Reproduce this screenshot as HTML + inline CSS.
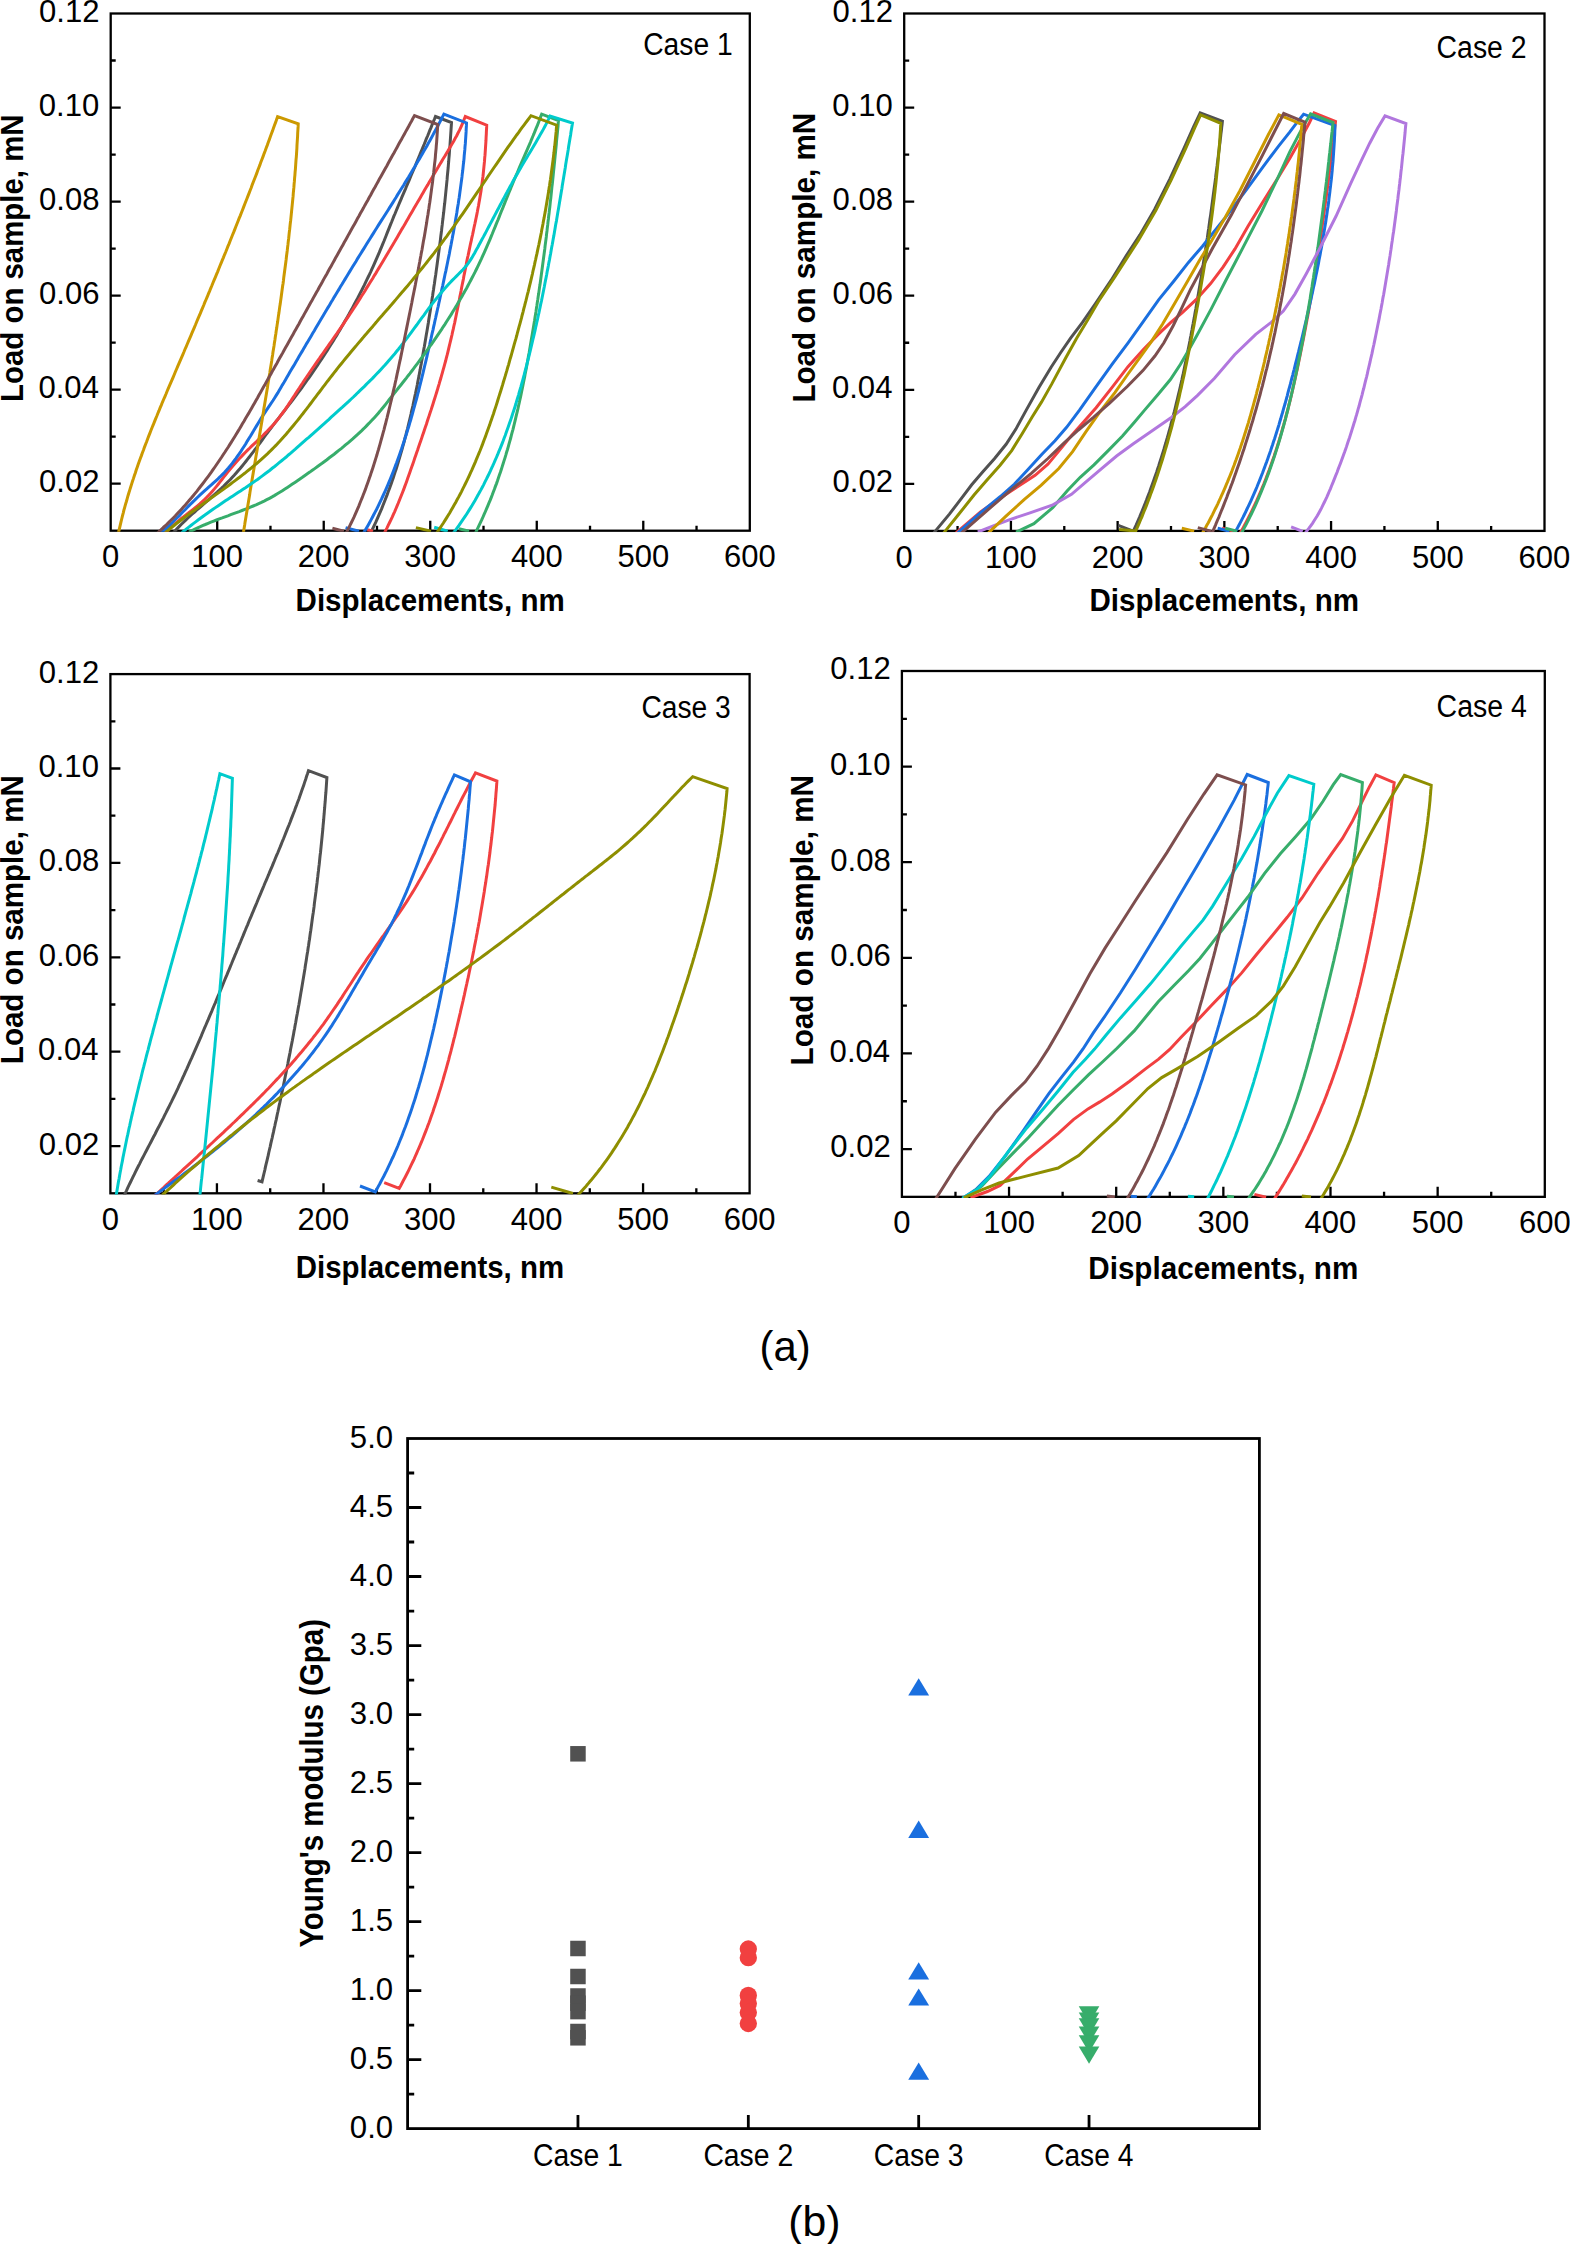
<!DOCTYPE html>
<html lang="en"><head><meta charset="utf-8"><title>Nanoindentation load-displacement curves and Young's modulus</title>
<style>html,body{margin:0;padding:0;background:#fff}body{width:1570px;height:2244px;overflow:hidden}svg{display:block}</style></head>
<body>
<svg width="1570" height="2244" viewBox="0 0 1570 2244" font-family='"Liberation Sans", sans-serif' fill="#000">
<rect width="1570" height="2244" fill="#fff"/>
<clipPath id="c1"><rect x="109.55" y="12.35" width="641.40" height="519.50"/></clipPath>
<path d="M163.96,530.70v-5.00 M217.22,530.70v-10.00 M270.47,530.70v-5.00 M323.73,530.70v-10.00 M376.99,530.70v-5.00 M430.25,530.70v-10.00 M483.51,530.70v-5.00 M536.77,530.70v-10.00 M590.02,530.70v-5.00 M643.28,530.70v-10.00 M696.54,530.70v-5.00 M110.70,483.68h10.00 M110.70,436.66h5.00 M110.70,389.65h10.00 M110.70,342.63h5.00 M110.70,295.61h10.00 M110.70,248.59h5.00 M110.70,201.57h10.00 M110.70,154.55h5.00 M110.70,107.54h10.00 M110.70,60.52h5.00" stroke="#000" stroke-width="2.3" fill="none"/>
<rect x="110.70" y="13.50" width="639.10" height="517.20" fill="none" stroke="#000" stroke-width="2.3"/>
<g clip-path="url(#c1)" fill="none" stroke-width="3.0" stroke-linejoin="miter" stroke-miterlimit="4" stroke-linecap="butt">
<path stroke="#515151" d="M173.2,533 175.2,530.8 177.2,528.6 179.3,526.4 181.4,524.3 183.5,522.2 185.7,520.1 187.9,518 190.1,516 192.3,514 194.6,512 196.8,510 199.1,508 201.4,506 203.6,504.1 205.9,502.1 208.2,500.1 210.5,498.2 212.7,496.2 215,494.2 217.2,492.2 219.4,490.1 221.6,488.1 223.8,486 225.9,483.9 228,481.8 230.1,479.7 232.1,477.5 234.2,475.3 236.2,473 238.1,470.8 240.1,468.5 242,466.2 243.9,463.9 245.8,461.5 247.6,459.2 249.5,456.8 251.3,454.4 253.1,452.1 254.9,449.7 256.7,447.3 258.5,444.9 260.3,442.5 262.1,440 263.8,437.6 265.6,435.2 267.4,432.8 269.2,430.4 271,428 272.8,425.7 274.6,423.3 276.5,420.9 278.3,418.6 280.2,416.2 282,413.8 283.8,411.5 285.7,409.1 287.5,406.7 289.3,404.4 291.1,402 293,399.6 294.8,397.2 296.5,394.8 298.3,392.4 300.1,390 301.9,387.5 303.6,385.1 305.4,382.7 307.1,380.2 308.9,377.8 310.6,375.3 312.3,372.8 314,370.4 315.7,367.9 317.4,365.4 319,362.9 320.7,360.4 322.4,357.9 324,355.4 325.6,352.9 327.3,350.4 328.9,347.8 330.5,345.3 332.1,342.7 333.7,340.2 335.2,337.6 336.8,335.1 338.3,332.5 339.9,329.9 341.4,327.3 342.9,324.7 344.4,322.1 345.9,319.5 347.4,316.9 348.9,314.3 350.3,311.7 351.8,309.1 353.2,306.4 354.6,303.8 356.1,301.1 357.5,298.5 358.8,295.8 360.2,293.1 361.6,290.5 362.9,287.8 364.3,285.1 365.6,282.4 366.9,279.7 368.2,277 369.5,274.3 370.8,271.6 372,268.9 373.3,266.1 374.5,263.4 375.7,260.6 376.9,257.9 378.1,255.1 379.3,252.4 380.4,249.6 381.6,246.8 382.7,244.1 383.9,241.3 385,238.5 386.1,235.7 387.2,232.9 388.3,230.1 389.4,227.4 390.5,224.6 391.7,221.8 392.8,219 393.9,216.2 395.1,213.5 396.2,210.7 397.4,207.9 398.5,205.2 399.7,202.4 400.9,199.6 402,196.9 403.2,194.1 404.4,191.3 405.6,188.6 406.7,185.8 407.9,183.1 409.1,180.3 410.3,177.5 411.4,174.8 412.6,172 413.8,169.2 415,166.5 416.1,163.7 417.3,160.9 418.4,158.2 419.6,155.4 420.7,152.6 421.9,149.8 423,147.1 424.2,144.3 425.3,141.5 426.4,138.7 427.6,136 428.7,133.2 429.8,130.4 431,127.6 432.1,124.8 433.2,122.1 434.4,119.3 435.5,116.5 451.5,122.6 451.3,125.6 451.1,128.6 450.9,131.6 450.7,134.6 450.5,137.6 450.3,140.6 450.1,143.6 449.9,146.6 449.6,149.5 449.4,152.5 449.2,155.5 448.9,158.5 448.7,161.5 448.4,164.5 448.2,167.5 447.9,170.5 447.6,173.5 447.3,176.5 447.1,179.4 446.8,182.4 446.5,185.4 446.2,188.4 445.9,191.4 445.6,194.4 445.3,197.4 445,200.4 444.7,203.3 444.3,206.3 444,209.3 443.7,212.3 443.3,215.3 443,218.3 442.6,221.2 442.3,224.2 441.9,227.2 441.6,230.2 441.2,233.2 440.8,236.2 440.5,239.1 440.1,242.1 439.7,245.1 439.3,248.1 438.9,251.1 438.5,254 438.1,257 437.7,260 437.3,263 436.9,266 436.5,268.9 436.1,271.9 435.7,274.9 435.2,277.9 434.8,280.8 434.4,283.8 433.9,286.8 433.5,289.8 433,292.7 432.6,295.7 432.1,298.7 431.7,301.7 431.2,304.6 430.7,307.6 430.3,310.6 429.8,313.6 429.3,316.5 428.8,319.5 428.4,322.5 427.9,325.4 427.4,328.4 426.9,331.4 426.4,334.3 425.9,337.3 425.4,340.3 424.9,343.3 424.4,346.2 423.8,349.2 423.3,352.2 422.8,355.1 422.3,358.1 421.7,361.1 421.2,364 420.6,367 420.1,369.9 419.5,372.9 419,375.9 418.4,378.8 417.8,381.8 417.3,384.7 416.7,387.7 416.1,390.6 415.5,393.6 414.8,396.5 414.2,399.5 413.6,402.4 413,405.3 412.3,408.3 411.6,411.2 411,414.1 410.3,417.1 409.6,420 408.9,422.9 408.2,425.8 407.5,428.8 406.7,431.7 406,434.6 405.2,437.5 404.5,440.4 403.7,443.3 402.9,446.2 402.1,449.1 401.3,451.9 400.4,454.8 399.6,457.7 398.7,460.6 397.9,463.4 397,466.3 396.1,469.2 395.1,472 394.2,474.9 393.3,477.7 392.3,480.5 391.3,483.4 390.3,486.2 389.3,489 388.2,491.8 387.2,494.6 386.1,497.4 385,500.2 383.9,503 382.8,505.8 381.7,508.6 380.5,511.4 379.3,514.1 378.1,516.9 376.9,519.7 375.7,522.4 374.4,525.1 373.1,527.9 371.8,530.6 370.5,533.3"/>
<path stroke="#F14040" d="M165.4,532.9 167.5,530.8 169.6,528.7 171.8,526.6 174.1,524.6 176.3,522.6 178.7,520.7 181,518.8 183.4,517 185.7,515.1 188.1,513.3 190.5,511.4 192.8,509.6 195.2,507.7 197.5,505.8 199.8,503.9 202,501.9 204.2,499.8 206.3,497.7 208.4,495.6 210.4,493.4 212.4,491.2 214.4,488.9 216.3,486.6 218.2,484.2 220,481.9 221.9,479.5 223.7,477.1 225.6,474.8 227.5,472.4 229.4,470.1 231.3,467.8 233.2,465.5 235.2,463.2 237.2,461 239.2,458.7 241.3,456.6 243.4,454.4 245.5,452.2 247.6,450.1 249.8,448 251.9,445.9 254.1,443.8 256.3,441.8 258.5,439.7 260.7,437.6 262.9,435.5 265,433.4 267.1,431.3 269.2,429.1 271.3,426.9 273.3,424.7 275.2,422.4 277.2,420.1 279,417.8 280.8,415.4 282.6,413 284.4,410.6 286.1,408.1 287.8,405.6 289.4,403.1 291.1,400.6 292.7,398.1 294.4,395.6 296,393 297.6,390.5 299.3,388 300.9,385.5 302.6,383 304.2,380.5 305.9,378 307.6,375.5 309.3,373 311,370.5 312.7,368 314.4,365.6 316.1,363.1 317.8,360.6 319.6,358.2 321.3,355.7 323,353.3 324.7,350.8 326.4,348.3 328.2,345.9 329.9,343.4 331.6,341 333.3,338.5 335,336 336.8,333.6 338.5,331.1 340.2,328.6 341.9,326.2 343.6,323.7 345.2,321.2 346.9,318.7 348.6,316.2 350.2,313.7 351.9,311.2 353.5,308.7 355.2,306.2 356.8,303.6 358.4,301.1 360,298.6 361.6,296 363.3,293.5 364.9,291 366.4,288.4 368,285.9 369.6,283.3 371.2,280.7 372.8,278.2 374.3,275.6 375.9,273.1 377.4,270.5 379,267.9 380.6,265.3 382.1,262.8 383.6,260.2 385.2,257.6 386.7,255 388.2,252.4 389.8,249.8 391.3,247.2 392.8,244.7 394.4,242.1 395.9,239.5 397.4,236.9 398.9,234.3 400.4,231.7 401.9,229.1 403.5,226.5 405,223.9 406.5,221.3 408,218.7 409.5,216.1 411,213.5 412.5,210.9 414,208.3 415.5,205.7 417.1,203.1 418.6,200.5 420.1,197.9 421.6,195.3 423.1,192.7 424.6,190.1 426.1,187.5 427.7,184.9 429.2,182.3 430.7,179.7 432.2,177.2 433.8,174.6 435.3,172 436.8,169.4 438.4,166.8 439.9,164.2 441.5,161.6 443,159.1 444.6,156.5 446.1,153.9 447.7,151.3 449.2,148.7 450.7,146.2 452.3,143.6 453.8,141 455.2,138.3 456.7,135.7 458,133 459.4,130.4 460.7,127.6 461.9,124.9 463.1,122.1 464.2,119.3 465.3,116.5 486.7,125.2 486.6,128.2 486.4,131.2 486.3,134.2 486.1,137.2 486,140.2 485.8,143.2 485.6,146.2 485.4,149.2 485.2,152.2 485,155.2 484.7,158.2 484.5,161.2 484.2,164.2 483.9,167.2 483.6,170.2 483.3,173.2 483,176.2 482.6,179.1 482.2,182.1 481.8,185.1 481.4,188.1 481,191 480.5,194 480,196.9 479.5,199.9 479,202.8 478.5,205.8 477.9,208.7 477.4,211.6 476.8,214.6 476.2,217.5 475.6,220.4 475,223.3 474.3,226.3 473.7,229.2 473.1,232.1 472.5,235 471.8,237.9 471.2,240.9 470.5,243.8 469.9,246.7 469.3,249.6 468.7,252.6 468.1,255.5 467.4,258.4 466.8,261.3 466.3,264.3 465.7,267.2 465.1,270.1 464.5,273.1 463.9,276 463.4,279 462.8,281.9 462.2,284.8 461.6,287.8 461.1,290.7 460.5,293.7 459.9,296.6 459.4,299.6 458.8,302.5 458.2,305.4 457.6,308.4 457,311.3 456.4,314.3 455.8,317.2 455.2,320.1 454.6,323.1 453.9,326 453.3,328.9 452.6,331.8 452,334.8 451.3,337.7 450.6,340.6 449.9,343.5 449.2,346.4 448.5,349.4 447.8,352.3 447.1,355.2 446.3,358.1 445.6,361 444.8,363.9 444,366.8 443.2,369.7 442.4,372.6 441.6,375.4 440.8,378.3 439.9,381.2 439.1,384.1 438.2,387 437.4,389.8 436.5,392.7 435.6,395.6 434.7,398.5 433.8,401.3 432.9,404.2 432,407 431.1,409.9 430.1,412.8 429.2,415.6 428.2,418.5 427.3,421.3 426.4,424.2 425.4,427 424.4,429.9 423.5,432.7 422.5,435.6 421.6,438.4 420.6,441.3 419.6,444.1 418.6,446.9 417.7,449.8 416.7,452.6 415.7,455.5 414.7,458.3 413.8,461.1 412.8,464 411.8,466.8 410.8,469.6 409.8,472.5 408.8,475.3 407.8,478.1 406.8,480.9 405.8,483.7 404.7,486.6 403.7,489.4 402.6,492.2 401.5,495 400.4,497.7 399.3,500.5 398.2,503.3 397,506.1 395.9,508.8 394.7,511.6 393.4,514.3 392.2,517.1 390.9,519.8 389.6,522.5 388.3,525.2 387,527.9 385.6,530.6 384.2,533.3 M372.8,531.3 L367.3,529.7"/>
<path stroke="#1A6FDF" d="M161.5,532.8 163.7,530.8 165.9,528.7 168.1,526.7 170.3,524.6 172.4,522.5 174.5,520.3 176.6,518.2 178.8,516.1 180.9,513.9 183,511.8 185.1,509.7 187.2,507.5 189.3,505.4 191.4,503.3 193.6,501.2 195.7,499.1 197.9,497 200.1,494.9 202.3,492.9 204.5,490.9 206.8,488.9 209,486.9 211.3,484.9 213.5,482.8 215.8,480.8 218,478.8 220.2,476.7 222.3,474.6 224.4,472.5 226.4,470.3 228.4,468 230.3,465.7 232.2,463.4 234,461 235.8,458.6 237.5,456.2 239.2,453.8 240.9,451.3 242.5,448.8 244.2,446.2 245.8,443.7 247.3,441.1 248.9,438.5 250.5,436 252,433.4 253.6,430.8 255.1,428.2 256.7,425.6 258.3,423 259.8,420.5 261.4,417.9 263,415.4 264.7,412.9 266.3,410.4 268,407.9 269.7,405.4 271.3,403 273,400.5 274.6,398 276.2,395.4 277.8,392.9 279.3,390.3 280.8,387.7 282.3,385.1 283.9,382.5 285.4,379.9 286.9,377.3 288.4,374.7 289.9,372.1 291.4,369.5 293,366.9 294.5,364.4 296,361.8 297.5,359.2 299,356.6 300.5,354 302.1,351.4 303.6,348.8 305.1,346.2 306.6,343.6 308.2,341 309.7,338.4 311.2,335.9 312.7,333.3 314.3,330.7 315.8,328.1 317.3,325.5 318.8,322.9 320.4,320.3 321.9,317.8 323.4,315.2 325,312.6 326.5,310 328.1,307.4 329.6,304.9 331.1,302.3 332.7,299.7 334.2,297.1 335.8,294.5 337.3,292 338.9,289.4 340.4,286.8 342,284.3 343.5,281.7 345.1,279.1 346.7,276.5 348.2,274 349.8,271.4 351.4,268.8 352.9,266.3 354.5,263.7 356.1,261.2 357.6,258.6 359.2,256 360.8,253.5 362.4,250.9 364,248.4 365.6,245.8 367.1,243.3 368.7,240.7 370.3,238.2 371.9,235.6 373.5,233.1 375.1,230.5 376.7,228 378.3,225.4 379.9,222.9 381.5,220.4 383.2,217.8 384.8,215.3 386.4,212.7 388,210.2 389.6,207.6 391.2,205.1 392.8,202.6 394.4,200 396,197.5 397.5,194.9 399.1,192.4 400.7,189.8 402.3,187.2 403.9,184.7 405.4,182.1 407,179.6 408.6,177 410.1,174.4 411.7,171.8 413.2,169.3 414.8,166.7 416.3,164.1 417.8,161.5 419.4,158.9 420.9,156.3 422.4,153.7 423.9,151.1 425.4,148.5 426.9,145.9 428.3,143.3 429.8,140.7 431.3,138 432.7,135.4 434.1,132.8 435.6,130.1 437,127.5 438.4,124.8 439.8,122.1 441.2,119.5 442.5,116.8 443.9,114.1 466.5,122.9 466.4,125.9 466.2,128.9 466.1,131.9 465.9,134.9 465.7,137.9 465.5,140.9 465.3,143.9 465,146.9 464.8,149.9 464.5,152.9 464.2,155.9 464,158.8 463.7,161.8 463.3,164.8 463,167.8 462.7,170.8 462.3,173.7 462,176.7 461.6,179.7 461.2,182.6 460.8,185.6 460.4,188.6 460,191.5 459.6,194.5 459.2,197.5 458.7,200.4 458.3,203.4 457.8,206.3 457.3,209.3 456.9,212.2 456.4,215.2 455.9,218.1 455.4,221.1 454.9,224 454.3,227 453.8,229.9 453.3,232.9 452.7,235.8 452.2,238.8 451.6,241.7 451.1,244.6 450.5,247.6 449.9,250.5 449.4,253.5 448.8,256.4 448.2,259.3 447.6,262.3 447,265.2 446.4,268.1 445.8,271.1 445.1,274 444.5,277 443.9,279.9 443.3,282.8 442.7,285.8 442,288.7 441.4,291.6 440.7,294.6 440.1,297.5 439.5,300.4 438.8,303.4 438.2,306.3 437.5,309.2 436.9,312.2 436.2,315.1 435.6,318 434.9,321 434.3,323.9 433.6,326.9 433,329.8 432.3,332.7 431.6,335.7 431,338.6 430.3,341.5 429.7,344.5 429,347.4 428.3,350.3 427.6,353.3 427,356.2 426.3,359.1 425.6,362.1 424.9,365 424.2,367.9 423.5,370.9 422.8,373.8 422.1,376.7 421.4,379.6 420.7,382.5 419.9,385.5 419.2,388.4 418.5,391.3 417.7,394.2 417,397.1 416.2,400 415.4,402.9 414.6,405.8 413.8,408.7 413,411.6 412.2,414.5 411.4,417.4 410.6,420.2 409.7,423.1 408.9,426 408,428.8 407.1,431.7 406.2,434.6 405.3,437.4 404.4,440.3 403.5,443.1 402.5,445.9 401.6,448.8 400.6,451.6 399.6,454.4 398.6,457.2 397.6,460 396.6,462.8 395.5,465.6 394.5,468.4 393.4,471.2 392.3,474 391.2,476.8 390.1,479.5 388.9,482.3 387.8,485 386.6,487.8 385.4,490.5 384.2,493.2 382.9,496 381.7,498.7 380.4,501.4 379.1,504.1 377.8,506.8 376.5,509.5 375.1,512.1 373.7,514.8 372.3,517.5 370.9,520.1 369.5,522.7 368,525.4 366.5,528 365,530.6 363.5,533.2 M359,531.3 L345.6,527.6"/>
<path stroke="#37AD6B" d="M189,532.2 191.7,530.8 194.4,529.4 197.1,528.1 199.8,526.9 202.5,525.6 205.3,524.5 208.1,523.3 210.9,522.2 213.7,521.1 216.5,520 219.3,518.9 222.2,517.9 225,516.8 227.9,515.8 230.7,514.7 233.5,513.7 236.4,512.6 239.2,511.6 242,510.5 244.8,509.4 247.7,508.3 250.4,507.2 253.2,506 256,504.9 258.7,503.6 261.4,502.4 264.1,501.1 266.8,499.7 269.5,498.3 272.1,496.9 274.7,495.4 277.3,493.8 279.8,492.3 282.4,490.7 284.9,489.1 287.4,487.4 289.9,485.8 292.4,484.1 294.9,482.4 297.4,480.7 299.9,479 302.4,477.3 304.9,475.5 307.3,473.8 309.8,472.1 312.3,470.3 314.7,468.6 317.2,466.8 319.6,465 322.1,463.3 324.5,461.5 326.9,459.7 329.3,457.8 331.7,456 334.1,454.2 336.5,452.3 338.8,450.4 341.2,448.6 343.5,446.7 345.8,444.7 348.1,442.8 350.4,440.8 352.7,438.9 354.9,436.9 357.1,434.9 359.3,432.8 361.5,430.8 363.7,428.7 365.8,426.6 367.9,424.4 370,422.3 372.1,420.1 374.1,417.9 376.1,415.7 378.1,413.4 380.1,411.1 382,408.8 383.9,406.5 385.8,404.1 387.7,401.7 389.5,399.3 391.4,397 393.3,394.6 395.1,392.2 397,389.9 398.8,387.5 400.7,385.2 402.6,382.8 404.4,380.5 406.3,378.1 408.1,375.7 410,373.4 411.8,371 413.6,368.6 415.4,366.2 417.2,363.8 419,361.4 420.8,358.9 422.6,356.5 424.4,354.1 426.1,351.6 427.9,349.2 429.6,346.7 431.4,344.3 433.1,341.8 434.8,339.3 436.5,336.8 438.2,334.3 439.9,331.8 441.6,329.3 443.2,326.8 444.9,324.3 446.5,321.8 448.1,319.2 449.8,316.7 451.4,314.1 452.9,311.6 454.5,309 456.1,306.4 457.6,303.8 459.1,301.2 460.7,298.6 462.2,296 463.6,293.4 465.1,290.8 466.6,288.2 468,285.5 469.4,282.9 470.8,280.2 472.2,277.5 473.6,274.9 475,272.2 476.3,269.5 477.6,266.8 478.9,264.1 480.2,261.3 481.5,258.6 482.7,255.9 484,253.1 485.2,250.4 486.4,247.6 487.6,244.9 488.8,242.1 490,239.3 491.1,236.6 492.3,233.8 493.4,231 494.6,228.2 495.7,225.4 496.8,222.6 498,219.9 499.1,217.1 500.2,214.3 501.3,211.5 502.5,208.7 503.6,205.9 504.7,203.1 505.8,200.3 507,197.5 508.1,194.7 509.2,191.9 510.4,189.1 511.5,186.3 512.7,183.5 513.8,180.8 515,178 516.2,175.2 517.4,172.5 518.5,169.7 519.7,166.9 520.9,164.2 522.1,161.4 523.3,158.6 524.5,155.9 525.7,153.1 526.9,150.4 528.1,147.6 529.3,144.8 530.5,142.1 531.6,139.3 532.8,136.5 534,133.7 535.1,130.9 536.2,128.1 537.4,125.4 538.5,122.5 539.6,119.7 540.6,116.9 541.7,114.1 558.5,120.6 558.2,123.6 558,126.6 557.7,129.5 557.4,132.5 557.1,135.5 556.8,138.5 556.5,141.4 556.3,144.4 556,147.4 555.7,150.4 555.4,153.4 555.1,156.3 554.8,159.3 554.5,162.3 554.2,165.3 553.9,168.3 553.6,171.2 553.3,174.2 553,177.2 552.7,180.2 552.4,183.2 552,186.2 551.7,189.2 551.4,192.1 551.1,195.1 550.8,198.1 550.4,201.1 550.1,204.1 549.8,207.1 549.4,210 549.1,213 548.7,216 548.4,219 548,222 547.7,225 547.3,228 547,230.9 546.6,233.9 546.3,236.9 545.9,239.9 545.5,242.9 545.1,245.9 544.8,248.9 544.4,251.8 544,254.8 543.6,257.8 543.2,260.8 542.8,263.8 542.4,266.8 542,269.7 541.6,272.7 541.2,275.7 540.8,278.7 540.4,281.7 540,284.6 539.5,287.6 539.1,290.6 538.7,293.6 538.2,296.5 537.8,299.5 537.3,302.5 536.9,305.5 536.4,308.4 536,311.4 535.5,314.4 535,317.4 534.6,320.3 534.1,323.3 533.6,326.3 533.1,329.2 532.6,332.2 532.1,335.2 531.6,338.1 531.1,341.1 530.6,344.1 530.1,347 529.6,350 529.1,353 528.5,355.9 528,358.9 527.5,361.8 526.9,364.8 526.4,367.7 525.8,370.7 525.2,373.6 524.7,376.6 524.1,379.5 523.5,382.5 522.9,385.4 522.3,388.4 521.7,391.3 521.1,394.2 520.5,397.2 519.8,400.1 519.2,403 518.5,406 517.9,408.9 517.2,411.8 516.5,414.7 515.8,417.6 515.1,420.6 514.4,423.5 513.7,426.4 513,429.3 512.2,432.2 511.4,435.1 510.7,438 509.9,440.8 509.1,443.7 508.3,446.6 507.5,449.5 506.6,452.3 505.8,455.2 504.9,458.1 504,460.9 503.1,463.8 502.2,466.6 501.3,469.5 500.4,472.3 499.4,475.1 498.4,478 497.5,480.8 496.5,483.6 495.4,486.4 494.4,489.2 493.3,492 492.3,494.8 491.2,497.6 490.1,500.4 488.9,503.2 487.8,505.9 486.6,508.7 485.4,511.5 484.2,514.2 483,517 481.8,519.7 480.5,522.4 479.2,525.2 477.9,527.9 476.6,530.6 475.3,533.3 M469.1,531.2 L459,528.8"/>
<path stroke="#CC9900" d="M118.2,533.7 118.9,530.8 119.6,527.8 120.3,524.9 121,521.9 121.7,519 122.4,516.1 123.2,513.1 123.9,510.2 124.7,507.3 125.5,504.4 126.4,501.5 127.2,498.6 128,495.7 128.9,492.8 129.8,489.9 130.7,487 131.6,484.1 132.5,481.3 133.5,478.4 134.4,475.5 135.4,472.7 136.3,469.8 137.3,467 138.3,464.1 139.3,461.3 140.3,458.4 141.4,455.6 142.4,452.8 143.5,450 144.5,447.1 145.6,444.3 146.7,441.5 147.7,438.7 148.8,435.9 149.9,433.1 151,430.3 152.1,427.5 153.3,424.7 154.4,421.9 155.5,419.1 156.7,416.3 157.8,413.5 159,410.7 160.1,407.9 161.3,405.1 162.4,402.3 163.6,399.5 164.8,396.8 166,394 167.1,391.2 168.3,388.4 169.5,385.6 170.7,382.9 171.9,380.1 173.1,377.3 174.3,374.5 175.4,371.8 176.6,369 177.8,366.2 179,363.4 180.2,360.6 181.4,357.9 182.6,355.1 183.8,352.3 184.9,349.5 186.1,346.8 187.3,344 188.5,341.2 189.7,338.4 190.9,335.6 192,332.9 193.2,330.1 194.4,327.3 195.6,324.5 196.7,321.7 197.9,318.9 199.1,316.2 200.3,313.4 201.4,310.6 202.6,307.8 203.8,305 204.9,302.2 206.1,299.5 207.3,296.7 208.4,293.9 209.6,291.1 210.7,288.3 211.9,285.5 213,282.7 214.2,279.9 215.4,277.1 216.5,274.4 217.7,271.6 218.8,268.8 219.9,266 221.1,263.2 222.2,260.4 223.4,257.6 224.5,254.8 225.7,252 226.8,249.2 227.9,246.4 229.1,243.6 230.2,240.8 231.3,238 232.4,235.2 233.6,232.4 234.7,229.6 235.8,226.8 236.9,224 238,221.2 239.1,218.4 240.3,215.6 241.4,212.8 242.5,210 243.6,207.1 244.7,204.3 245.8,201.5 246.9,198.7 248,195.9 249.1,193.1 250.2,190.3 251.3,187.5 252.3,184.6 253.4,181.8 254.5,179 255.6,176.2 256.7,173.4 257.7,170.5 258.8,167.7 259.9,164.9 260.9,162.1 262,159.2 263.1,156.4 264.1,153.6 265.2,150.8 266.2,147.9 267.3,145.1 268.3,142.3 269.4,139.4 270.4,136.6 271.4,133.7 272.5,130.9 273.5,128.1 274.5,125.2 275.6,122.4 276.6,119.5 277.6,116.7 298.2,123.9 298.1,126.9 297.9,129.9 297.7,133 297.6,136 297.4,139 297.2,142 297,145 296.9,148 296.7,151.1 296.5,154.1 296.3,157.1 296,160.1 295.8,163.1 295.6,166.1 295.4,169.1 295.1,172.1 294.9,175.1 294.6,178.2 294.4,181.2 294.1,184.2 293.9,187.2 293.6,190.2 293.3,193.2 293.1,196.2 292.8,199.2 292.5,202.2 292.2,205.2 291.9,208.2 291.6,211.2 291.3,214.2 291,217.2 290.7,220.2 290.3,223.2 290,226.2 289.7,229.2 289.3,232.2 289,235.2 288.7,238.2 288.3,241.2 288,244.2 287.6,247.2 287.3,250.2 286.9,253.2 286.5,256.2 286.2,259.2 285.8,262.2 285.4,265.2 285,268.2 284.6,271.2 284.2,274.2 283.8,277.2 283.5,280.2 283.1,283.2 282.6,286.2 282.2,289.2 281.8,292.2 281.4,295.2 281,298.2 280.6,301.1 280.2,304.1 279.7,307.1 279.3,310.1 278.9,313.1 278.4,316.1 278,319.1 277.6,322.1 277.1,325.1 276.7,328.1 276.2,331 275.8,334 275.3,337 274.9,340 274.4,343 274,346 273.5,349 273,352 272.6,354.9 272.1,357.9 271.7,360.9 271.2,363.9 270.7,366.9 270.2,369.9 269.8,372.9 269.3,375.8 268.8,378.8 268.3,381.8 267.8,384.8 267.4,387.8 266.9,390.8 266.4,393.7 265.9,396.7 265.4,399.7 264.9,402.7 264.4,405.7 263.9,408.6 263.5,411.6 263,414.6 262.5,417.6 262,420.6 261.5,423.6 261,426.5 260.5,429.5 260,432.5 259.5,435.5 259,438.5 258.5,441.4 258,444.4 257.5,447.4 257,450.4 256.5,453.4 256,456.3 255.5,459.3 255,462.3 254.5,465.3 254,468.3 253.5,471.2 253,474.2 252.5,477.2 252,480.2 251.5,483.1 251,486.1 250.5,489.1 250,492.1 249.6,495.1 249.1,498 248.6,501 248.1,504 247.6,507 247.1,510 246.6,512.9 246.1,515.9 245.6,518.9 245.1,521.9 244.7,524.8 244.2,527.8 243.7,530.8 243.2,533.8"/>
<path stroke="#00CBCC" d="M181.8,532.7 184.1,530.8 186.5,528.9 188.8,527.1 191.2,525.2 193.6,523.4 196,521.6 198.4,519.8 200.8,518 203.2,516.2 205.6,514.5 208.1,512.7 210.5,511 213,509.3 215.4,507.6 217.9,505.9 220.4,504.2 222.9,502.5 225.4,500.8 227.9,499.2 230.4,497.5 232.9,495.9 235.4,494.3 238,492.6 240.5,491 243,489.3 245.5,487.7 248,486 250.5,484.3 253,482.6 255.4,480.9 257.9,479.2 260.3,477.4 262.7,475.6 265.1,473.8 267.5,472 269.9,470.2 272.2,468.3 274.6,466.5 276.9,464.6 279.2,462.7 281.6,460.8 283.9,458.9 286.2,457 288.4,455 290.7,453.1 293,451.1 295.3,449.2 297.5,447.2 299.8,445.2 302,443.2 304.3,441.2 306.5,439.2 308.8,437.3 311,435.3 313.3,433.3 315.5,431.3 317.8,429.3 320,427.3 322.2,425.3 324.5,423.3 326.7,421.3 329,419.3 331.2,417.2 333.5,415.2 335.7,413.2 337.9,411.2 340.1,409.2 342.4,407.2 344.6,405.1 346.8,403.1 349,401.1 351.2,399 353.4,397 355.6,394.9 357.7,392.8 359.9,390.7 362,388.7 364.2,386.6 366.3,384.4 368.4,382.3 370.6,380.2 372.7,378.1 374.7,375.9 376.8,373.7 378.9,371.6 380.9,369.4 382.9,367.2 385,365 387,362.7 388.9,360.5 390.9,358.2 392.8,356 394.8,353.7 396.7,351.3 398.6,349 400.4,346.7 402.3,344.3 404.1,341.9 405.9,339.5 407.8,337.1 409.6,334.7 411.3,332.3 413.1,329.9 414.9,327.4 416.7,325 418.4,322.6 420.2,320.1 422,317.7 423.8,315.3 425.5,312.8 427.3,310.4 429.1,308 430.9,305.6 432.8,303.2 434.6,300.8 436.5,298.5 438.4,296.1 440.3,293.8 442.2,291.5 444.1,289.2 446.1,287 448.1,284.8 450.2,282.6 452.2,280.4 454.4,278.2 456.5,276.1 458.6,274 460.7,271.9 462.8,269.7 464.8,267.5 466.7,265.2 468.5,262.9 470.2,260.4 471.8,257.9 473.3,255.3 474.8,252.7 476.2,250.1 477.7,247.5 479.1,244.8 480.5,242.2 481.9,239.5 483.4,236.9 484.8,234.2 486.2,231.6 487.6,228.9 489,226.3 490.4,223.6 491.8,221 493.2,218.3 494.6,215.6 496,213 497.4,210.3 498.8,207.7 500.2,205 501.6,202.4 503,199.7 504.4,197.1 505.8,194.4 507.3,191.8 508.7,189.1 510.1,186.5 511.6,183.9 513,181.2 514.5,178.6 516,176 517.5,173.4 519,170.8 520.5,168.2 522,165.6 523.5,163 525,160.4 526.6,157.9 528.1,155.3 529.7,152.7 531.2,150.2 532.8,147.6 534.3,145 535.8,142.4 537.3,139.8 538.8,137.2 540.3,134.6 541.8,132 543.3,129.4 544.7,126.7 546.1,124.1 547.4,121.4 548.8,118.7 550.1,116 572.5,123 572,126 571.5,128.9 571,131.9 570.6,134.9 570.1,137.8 569.6,140.8 569.1,143.8 568.6,146.7 568.2,149.7 567.7,152.7 567.2,155.7 566.7,158.6 566.2,161.6 565.7,164.6 565.3,167.5 564.8,170.5 564.3,173.5 563.8,176.5 563.3,179.4 562.8,182.4 562.3,185.4 561.9,188.4 561.4,191.3 560.9,194.3 560.4,197.3 559.9,200.3 559.4,203.2 558.9,206.2 558.4,209.2 557.9,212.1 557.4,215.1 556.9,218.1 556.4,221.1 555.8,224 555.3,227 554.8,230 554.3,232.9 553.8,235.9 553.2,238.9 552.7,241.9 552.2,244.8 551.6,247.8 551.1,250.8 550.6,253.7 550,256.7 549.5,259.7 548.9,262.6 548.4,265.6 547.8,268.6 547.2,271.5 546.7,274.5 546.1,277.5 545.5,280.4 544.9,283.4 544.4,286.3 543.8,289.3 543.2,292.3 542.6,295.2 542,298.2 541.4,301.1 540.7,304.1 540.1,307.1 539.5,310 538.9,313 538.2,315.9 537.6,318.9 536.9,321.8 536.3,324.8 535.6,327.7 535,330.7 534.3,333.6 533.6,336.6 532.9,339.5 532.2,342.5 531.5,345.4 530.8,348.3 530.1,351.3 529.4,354.2 528.7,357.2 527.9,360.1 527.2,363 526.5,366 525.7,368.9 524.9,371.8 524.2,374.7 523.4,377.7 522.6,380.6 521.8,383.5 521,386.4 520.1,389.3 519.3,392.2 518.5,395.1 517.6,398 516.7,400.9 515.9,403.8 515,406.7 514.1,409.5 513.1,412.4 512.2,415.3 511.3,418.1 510.3,421 509.3,423.8 508.3,426.7 507.3,429.5 506.3,432.3 505.3,435.2 504.2,438 503.2,440.8 502.1,443.6 501,446.4 499.9,449.2 498.7,451.9 497.6,454.7 496.4,457.5 495.2,460.2 494,463 492.8,465.7 491.5,468.4 490.3,471.1 489,473.8 487.7,476.5 486.4,479.2 485,481.9 483.7,484.6 482.3,487.2 480.9,489.9 479.4,492.5 478,495.1 476.5,497.7 475,500.4 473.5,502.9 472,505.5 470.4,508.1 468.8,510.6 467.2,513.2 465.6,515.7 463.9,518.2 462.2,520.7 460.5,523.2 458.8,525.7 457,528.2 455.2,530.6 453.4,533 M447.7,531.3 L434.2,527.3"/>
<path stroke="#7D4E4E" d="M157.7,532.8 159.9,530.8 162.2,528.7 164.4,526.7 166.6,524.6 168.8,522.4 170.9,520.3 173,518.2 175.2,516 177.2,513.8 179.3,511.6 181.3,509.4 183.4,507.1 185.4,504.9 187.4,502.6 189.3,500.3 191.3,498 193.2,495.7 195.1,493.4 197,491.1 198.8,488.7 200.7,486.3 202.5,484 204.3,481.6 206.1,479.2 207.9,476.8 209.7,474.3 211.5,471.9 213.2,469.4 214.9,467 216.6,464.5 218.3,462 220,459.5 221.7,457 223.3,454.5 225,452 226.6,449.5 228.3,447 229.9,444.4 231.5,441.9 233.1,439.3 234.7,436.7 236.2,434.2 237.8,431.6 239.4,429 240.9,426.4 242.4,423.8 244,421.2 245.5,418.6 247,416 248.6,413.4 250.1,410.8 251.6,408.2 253.1,405.5 254.6,402.9 256.1,400.3 257.6,397.7 259,395 260.5,392.4 262,389.8 263.5,387.1 265,384.5 266.4,381.9 267.9,379.2 269.4,376.6 270.9,373.9 272.3,371.3 273.8,368.7 275.3,366 276.8,363.4 278.2,360.8 279.7,358.1 281.2,355.5 282.7,352.9 284.1,350.2 285.6,347.6 287.1,345 288.6,342.3 290,339.7 291.5,337.1 293,334.4 294.4,331.8 295.9,329.2 297.4,326.5 298.9,323.9 300.3,321.3 301.8,318.6 303.3,316 304.7,313.4 306.2,310.7 307.7,308.1 309.1,305.5 310.6,302.8 312.1,300.2 313.5,297.6 315,294.9 316.5,292.3 318,289.7 319.4,287 320.9,284.4 322.4,281.8 323.8,279.1 325.3,276.5 326.8,273.9 328.2,271.3 329.7,268.6 331.2,266 332.6,263.4 334.1,260.7 335.5,258.1 337,255.5 338.5,252.8 339.9,250.2 341.4,247.6 342.9,244.9 344.3,242.3 345.8,239.7 347.3,237 348.7,234.4 350.2,231.8 351.7,229.1 353.1,226.5 354.6,223.9 356.1,221.2 357.5,218.6 359,216 360.4,213.3 361.9,210.7 363.4,208.1 364.8,205.4 366.3,202.8 367.8,200.2 369.2,197.5 370.7,194.9 372.1,192.3 373.6,189.6 375.1,187 376.5,184.4 378,181.7 379.4,179.1 380.9,176.5 382.4,173.8 383.8,171.2 385.3,168.5 386.8,165.9 388.2,163.3 389.7,160.6 391.1,158 392.6,155.3 394.1,152.7 395.5,150.1 397,147.4 398.4,144.8 399.9,142.1 401.4,139.5 402.8,136.9 404.3,134.2 405.7,131.6 407.2,128.9 408.7,126.3 410.1,123.6 411.6,121 413,118.3 414.5,115.7 437.8,124.5 437.6,127.5 437.4,130.5 437.2,133.5 437,136.6 436.8,139.6 436.6,142.6 436.3,145.6 436.1,148.6 435.8,151.6 435.5,154.6 435.3,157.6 435,160.6 434.6,163.6 434.3,166.6 434,169.5 433.7,172.5 433.3,175.5 432.9,178.5 432.6,181.5 432.2,184.5 431.8,187.4 431.4,190.4 431,193.4 430.6,196.4 430.2,199.3 429.8,202.3 429.3,205.3 428.9,208.3 428.4,211.2 428,214.2 427.5,217.1 427,220.1 426.6,223.1 426.1,226 425.6,229 425.1,232 424.6,234.9 424.1,237.9 423.5,240.8 423,243.8 422.5,246.7 422,249.7 421.4,252.6 420.9,255.6 420.3,258.6 419.8,261.5 419.2,264.5 418.7,267.4 418.1,270.4 417.6,273.3 417,276.3 416.4,279.2 415.8,282.2 415.3,285.1 414.7,288.1 414.1,291 413.5,294 412.9,296.9 412.3,299.9 411.8,302.8 411.2,305.8 410.6,308.7 410,311.7 409.4,314.6 408.8,317.6 408.2,320.5 407.6,323.5 407,326.4 406.4,329.4 405.8,332.3 405.2,335.3 404.6,338.2 404,341.2 403.4,344.1 402.8,347.1 402.2,350 401.6,353 401,355.9 400.4,358.9 399.7,361.9 399.1,364.8 398.5,367.7 397.9,370.7 397.2,373.6 396.6,376.6 396,379.5 395.3,382.5 394.7,385.4 394,388.4 393.3,391.3 392.7,394.2 392,397.2 391.3,400.1 390.6,403 389.9,406 389.2,408.9 388.5,411.8 387.8,414.7 387.1,417.6 386.3,420.6 385.6,423.5 384.8,426.4 384.1,429.3 383.3,432.2 382.5,435.1 381.7,438 380.9,440.9 380.1,443.8 379.3,446.6 378.5,449.5 377.6,452.4 376.8,455.3 375.9,458.1 375,461 374.1,463.9 373.2,466.7 372.3,469.6 371.3,472.4 370.4,475.3 369.4,478.1 368.4,480.9 367.4,483.7 366.4,486.6 365.4,489.4 364.3,492.2 363.2,495 362.2,497.7 361,500.5 359.9,503.3 358.8,506.1 357.6,508.8 356.4,511.6 355.2,514.3 354,517.1 352.7,519.8 351.4,522.5 350.1,525.2 348.8,527.9 347.4,530.6 346,533.3 M343.8,531.3 L332.4,528.3"/>
<path stroke="#8E8E00" d="M165.2,532.7 167.5,530.8 169.8,528.9 172.1,527 174.4,525.2 176.8,523.3 179.2,521.5 181.5,519.7 183.9,517.9 186.3,516.1 188.7,514.3 191.1,512.5 193.6,510.7 196,509 198.4,507.2 200.9,505.4 203.3,503.7 205.8,501.9 208.2,500.2 210.7,498.4 213.2,496.6 215.6,494.9 218.1,493.1 220.5,491.4 223,489.6 225.4,487.8 227.9,486 230.3,484.2 232.7,482.4 235.1,480.6 237.5,478.8 239.9,477 242.3,475.1 244.7,473.3 247,471.4 249.4,469.5 251.7,467.6 254,465.7 256.3,463.8 258.5,461.8 260.8,459.8 263,457.8 265.2,455.8 267.4,453.8 269.6,451.7 271.7,449.6 273.8,447.5 275.9,445.4 277.9,443.2 280,441 282,438.8 284,436.6 285.9,434.4 287.9,432.1 289.8,429.8 291.7,427.5 293.6,425.2 295.5,422.9 297.4,420.6 299.3,418.2 301.1,415.9 303,413.5 304.8,411.1 306.6,408.8 308.5,406.4 310.3,404 312.1,401.6 313.9,399.2 315.7,396.8 317.5,394.4 319.4,392 321.2,389.6 323,387.2 324.8,384.8 326.6,382.4 328.5,380 330.3,377.6 332.2,375.2 334,372.9 335.9,370.5 337.7,368.1 339.6,365.8 341.5,363.5 343.4,361.1 345.3,358.8 347.2,356.5 349.1,354.2 351.1,351.8 353,349.5 354.9,347.2 356.9,344.9 358.8,342.6 360.7,340.4 362.7,338.1 364.6,335.8 366.6,333.5 368.5,331.2 370.5,328.9 372.5,326.7 374.4,324.4 376.4,322.1 378.3,319.8 380.3,317.6 382.3,315.3 384.2,313 386.2,310.8 388.2,308.5 390.1,306.2 392.1,304 394,301.7 396,299.4 397.9,297.1 399.9,294.8 401.8,292.6 403.8,290.3 405.7,288 407.7,285.7 409.6,283.4 411.5,281.1 413.4,278.8 415.3,276.5 417.2,274.2 419.1,271.9 421,269.5 422.9,267.2 424.8,264.9 426.7,262.5 428.5,260.2 430.4,257.8 432.2,255.5 434.1,253.1 435.9,250.7 437.7,248.3 439.5,246 441.3,243.6 443.1,241.1 444.9,238.7 446.7,236.3 448.4,233.9 450.2,231.5 451.9,229 453.7,226.6 455.4,224.1 457.1,221.7 458.9,219.2 460.6,216.7 462.3,214.3 464,211.8 465.7,209.3 467.4,206.9 469.1,204.4 470.8,201.9 472.5,199.4 474.2,196.9 475.9,194.4 477.6,191.9 479.2,189.5 480.9,187 482.6,184.5 484.3,182 486,179.5 487.6,177 489.3,174.5 491,172 492.7,169.5 494.4,167 496.1,164.6 497.8,162.1 499.5,159.6 501.2,157.1 502.9,154.6 504.6,152.2 506.3,149.7 508,147.2 509.7,144.8 511.5,142.3 513.2,139.9 515,137.4 516.7,135 518.5,132.6 520.2,130.1 522,127.7 523.8,125.3 525.6,122.9 527.4,120.5 529.2,118.1 531,115.7 556.7,125.2 556.4,128.2 556.2,131.2 555.9,134.2 555.6,137.2 555.3,140.3 555,143.3 554.7,146.3 554.3,149.3 554,152.3 553.6,155.3 553.3,158.3 552.9,161.3 552.5,164.2 552.1,167.2 551.7,170.2 551.3,173.2 550.9,176.2 550.5,179.2 550,182.2 549.6,185.2 549.1,188.1 548.7,191.1 548.2,194.1 547.7,197.1 547.2,200 546.7,203 546.2,206 545.7,209 545.2,211.9 544.6,214.9 544.1,217.9 543.5,220.8 543,223.8 542.4,226.8 541.8,229.7 541.3,232.7 540.7,235.6 540.1,238.6 539.5,241.6 538.9,244.5 538.2,247.5 537.6,250.4 537,253.4 536.3,256.3 535.7,259.3 535,262.2 534.4,265.1 533.7,268.1 533,271 532.4,274 531.7,276.9 531,279.9 530.3,282.8 529.6,285.7 528.9,288.7 528.2,291.6 527.4,294.5 526.7,297.5 526,300.4 525.2,303.3 524.5,306.2 523.7,309.2 523,312.1 522.2,315 521.5,317.9 520.7,320.9 519.9,323.8 519.1,326.7 518.3,329.6 517.5,332.5 516.8,335.5 516,338.4 515.1,341.3 514.3,344.2 513.5,347.1 512.7,350 511.9,352.9 511.1,355.8 510.2,358.7 509.4,361.7 508.6,364.6 507.7,367.5 506.9,370.4 506,373.3 505.2,376.2 504.3,379.1 503.4,382 502.6,384.9 501.7,387.8 500.8,390.7 499.9,393.5 499,396.4 498.1,399.3 497.2,402.2 496.3,405.1 495.4,407.9 494.4,410.8 493.5,413.7 492.5,416.5 491.5,419.4 490.5,422.2 489.6,425.1 488.5,427.9 487.5,430.8 486.5,433.6 485.5,436.4 484.4,439.2 483.3,442.1 482.3,444.9 481.2,447.7 480.1,450.5 478.9,453.3 477.8,456 476.6,458.8 475.5,461.6 474.3,464.4 473.1,467.1 471.9,469.9 470.6,472.6 469.4,475.3 468.1,478.1 466.8,480.8 465.5,483.5 464.2,486.2 462.8,488.9 461.5,491.6 460.1,494.2 458.7,496.9 457.2,499.6 455.8,502.2 454.3,504.8 452.8,507.5 451.3,510.1 449.8,512.7 448.2,515.3 446.6,517.9 445,520.4 443.4,523 441.7,525.5 440,528.1 438.3,530.6 436.6,533.1 M431,531.2 L415.9,527.6"/>
</g>
<text x="102.08" y="567.30" font-size="30.5" textLength="17.25" lengthAdjust="spacingAndGlyphs">0</text>
<text x="191.35" y="567.30" font-size="30.5" textLength="51.74" lengthAdjust="spacingAndGlyphs">100</text>
<text x="297.86" y="567.30" font-size="30.5" textLength="51.74" lengthAdjust="spacingAndGlyphs">200</text>
<text x="404.38" y="567.30" font-size="30.5" textLength="51.74" lengthAdjust="spacingAndGlyphs">300</text>
<text x="510.90" y="567.30" font-size="30.5" textLength="51.74" lengthAdjust="spacingAndGlyphs">400</text>
<text x="617.41" y="567.30" font-size="30.5" textLength="51.74" lengthAdjust="spacingAndGlyphs">500</text>
<text x="723.93" y="567.30" font-size="30.5" textLength="51.74" lengthAdjust="spacingAndGlyphs">600</text>
<text x="39.06" y="492.08" font-size="30.5" textLength="60.49" lengthAdjust="spacingAndGlyphs">0.02</text>
<text x="38.44" y="398.05" font-size="30.5" textLength="60.49" lengthAdjust="spacingAndGlyphs">0.04</text>
<text x="39.06" y="304.01" font-size="30.5" textLength="60.49" lengthAdjust="spacingAndGlyphs">0.06</text>
<text x="39.06" y="209.97" font-size="30.5" textLength="60.49" lengthAdjust="spacingAndGlyphs">0.08</text>
<text x="38.75" y="115.94" font-size="30.5" textLength="60.49" lengthAdjust="spacingAndGlyphs">0.10</text>
<text x="39.06" y="21.90" font-size="30.5" textLength="60.49" lengthAdjust="spacingAndGlyphs">0.12</text>
<text x="295.58" y="610.90" font-size="31.3" textLength="269.17" lengthAdjust="spacingAndGlyphs" font-weight="bold">Displacements, nm</text>
<text transform="translate(23.00 401.91) rotate(-90)" x="0" y="0" font-size="31.3" textLength="287.40" lengthAdjust="spacingAndGlyphs" font-weight="bold">Load on sample, mN</text>
<text x="643.19" y="54.70" font-size="31" textLength="89.48" lengthAdjust="spacingAndGlyphs">Case 1</text>
<clipPath id="c2"><rect x="903.05" y="12.35" width="642.60" height="519.70"/></clipPath>
<path d="M957.56,530.90v-5.00 M1010.92,530.90v-10.00 M1064.28,530.90v-5.00 M1117.63,530.90v-10.00 M1170.99,530.90v-5.00 M1224.35,530.90v-10.00 M1277.71,530.90v-5.00 M1331.07,530.90v-10.00 M1384.42,530.90v-5.00 M1437.78,530.90v-10.00 M1491.14,530.90v-5.00 M904.20,483.86h10.00 M904.20,436.83h5.00 M904.20,389.79h10.00 M904.20,342.75h5.00 M904.20,295.72h10.00 M904.20,248.68h5.00 M904.20,201.65h10.00 M904.20,154.61h5.00 M904.20,107.57h10.00 M904.20,60.54h5.00" stroke="#000" stroke-width="2.3" fill="none"/>
<rect x="904.20" y="13.50" width="640.30" height="517.40" fill="none" stroke="#000" stroke-width="2.3"/>
<g clip-path="url(#c2)" fill="none" stroke-width="3.0" stroke-linejoin="miter" stroke-miterlimit="4" stroke-linecap="butt">
<path stroke="#515151" d="M933.6,533.2 935.5,530.9 949.6,513.9 961.8,497.8 971.7,484.8 982.4,472.3 994.4,458.7 1006.1,444.3 1015.9,429.1 1026.1,410.4 1038.9,387.6 1051.1,367.2 1060.9,352.3 1070.6,338.2 1082.3,322.7 1095.3,303.8 1111.2,280.2 1126.2,255.8 1139.9,234.9 1154.6,209.4 1169.8,179.1 1184.2,148 1193.9,126.1 1200.2,113 1222.4,121.3 1222.1,124.3 1221.7,127.3 1221.4,130.2 1221,133.2 1220.7,136.2 1220.3,139.2 1220,142.2 1219.6,145.1 1219.3,148.1 1218.9,151.1 1218.5,154.1 1218.2,157.1 1217.8,160 1217.4,163 1217.1,166 1216.7,169 1216.3,172 1215.9,174.9 1215.6,177.9 1215.2,180.9 1214.8,183.9 1214.4,186.8 1214,189.8 1213.6,192.8 1213.2,195.8 1212.8,198.7 1212.4,201.7 1212,204.7 1211.6,207.7 1211.2,210.6 1210.8,213.6 1210.4,216.6 1209.9,219.6 1209.5,222.5 1209.1,225.5 1208.7,228.5 1208.2,231.4 1207.8,234.4 1207.4,237.4 1206.9,240.4 1206.5,243.3 1206,246.3 1205.6,249.3 1205.1,252.2 1204.7,255.2 1204.2,258.2 1203.7,261.1 1203.3,264.1 1202.8,267.1 1202.3,270 1201.9,273 1201.4,276 1200.9,278.9 1200.4,281.9 1199.9,284.9 1199.4,287.8 1198.9,290.8 1198.4,293.7 1197.9,296.7 1197.4,299.7 1196.9,302.6 1196.4,305.6 1195.9,308.5 1195.3,311.5 1194.8,314.5 1194.3,317.4 1193.7,320.4 1193.2,323.3 1192.6,326.3 1192.1,329.2 1191.5,332.2 1191,335.2 1190.4,338.1 1189.9,341.1 1189.3,344 1188.7,347 1188.1,349.9 1187.5,352.9 1187,355.8 1186.4,358.7 1185.7,361.7 1185.1,364.6 1184.5,367.6 1183.9,370.5 1183.3,373.4 1182.6,376.4 1182,379.3 1181.3,382.2 1180.7,385.2 1180,388.1 1179.3,391 1178.6,393.9 1177.9,396.9 1177.2,399.8 1176.5,402.7 1175.8,405.6 1175.1,408.5 1174.4,411.4 1173.6,414.3 1172.9,417.2 1172.1,420.1 1171.3,423 1170.6,425.9 1169.8,428.8 1169,431.7 1168.2,434.6 1167.4,437.5 1166.5,440.4 1165.7,443.3 1164.8,446.1 1164,449 1163.1,451.9 1162.2,454.7 1161.3,457.6 1160.4,460.5 1159.5,463.3 1158.6,466.2 1157.6,469 1156.7,471.9 1155.7,474.7 1154.7,477.5 1153.7,480.4 1152.7,483.2 1151.7,486 1150.7,488.8 1149.7,491.7 1148.6,494.5 1147.5,497.3 1146.5,500.1 1145.4,502.9 1144.2,505.7 1143.1,508.5 1142,511.2 1140.8,514 1139.7,516.8 1138.5,519.6 1137.3,522.3 1136.1,525.1 1134.8,527.9 1133.6,530.6 1132.4,533.3 M1133.8,531.3 L1118.3,525.3"/>
<path stroke="#F14040" d="M956.1,532.9 958.4,530.9 980.5,511.9 1001.5,497.3 1019.8,485.3 1035.1,475.3 1047.9,464.1 1059.8,449.9 1071.6,435.4 1084.9,420.4 1096.1,407.7 1112.1,387.4 1128,366.7 1143.4,349.5 1158.2,334.4 1170.8,322.4 1182.3,312.6 1196.1,299.7 1210.6,283.6 1223.2,266.8 1235,248.9 1248,226.3 1263,201.8 1278.2,177.5 1290,158.1 1300.4,139.6 1309.5,122.5 1314.1,112.8 1335.5,121.5 1335.2,124.5 1334.8,127.5 1334.5,130.4 1334.1,133.4 1333.8,136.4 1333.4,139.4 1333.1,142.4 1332.7,145.4 1332.4,148.3 1332,151.3 1331.6,154.3 1331.3,157.3 1330.9,160.3 1330.5,163.3 1330.2,166.3 1329.8,169.3 1329.4,172.2 1329.1,175.2 1328.7,178.2 1328.3,181.2 1327.9,184.2 1327.5,187.2 1327.1,190.2 1326.7,193.2 1326.3,196.2 1325.9,199.1 1325.5,202.1 1325.1,205.1 1324.7,208.1 1324.3,211.1 1323.9,214.1 1323.5,217.1 1323.1,220.1 1322.6,223.1 1322.2,226 1321.8,229 1321.4,232 1320.9,235 1320.5,238 1320,241 1319.6,244 1319.1,247 1318.7,250 1318.2,252.9 1317.8,255.9 1317.3,258.9 1316.8,261.9 1316.4,264.9 1315.9,267.9 1315.4,270.9 1314.9,273.8 1314.5,276.8 1314,279.8 1313.5,282.8 1313,285.8 1312.5,288.8 1312,291.7 1311.5,294.7 1310.9,297.7 1310.4,300.7 1309.9,303.7 1309.4,306.6 1308.9,309.6 1308.3,312.6 1307.8,315.6 1307.2,318.5 1306.7,321.5 1306.1,324.5 1305.6,327.4 1305,330.4 1304.4,333.4 1303.9,336.3 1303.3,339.3 1302.7,342.3 1302.1,345.2 1301.5,348.2 1300.9,351.2 1300.3,354.1 1299.7,357.1 1299.1,360 1298.5,363 1297.9,366 1297.3,368.9 1296.6,371.9 1296,374.8 1295.3,377.8 1294.7,380.7 1294,383.7 1293.3,386.6 1292.7,389.5 1292,392.5 1291.3,395.4 1290.6,398.3 1289.9,401.3 1289.1,404.2 1288.4,407.1 1287.7,410 1286.9,412.9 1286.1,415.8 1285.4,418.8 1284.6,421.7 1283.8,424.6 1282.9,427.5 1282.1,430.3 1281.3,433.2 1280.4,436.1 1279.6,439 1278.7,441.9 1277.8,444.7 1276.9,447.6 1276,450.5 1275,453.3 1274.1,456.2 1273.1,459 1272.1,461.8 1271.1,464.7 1270.1,467.5 1269.1,470.3 1268,473.1 1267,475.9 1265.9,478.7 1264.8,481.5 1263.7,484.3 1262.5,487.1 1261.4,489.9 1260.2,492.6 1259,495.4 1257.8,498.2 1256.6,500.9 1255.3,503.6 1254,506.4 1252.7,509.1 1251.4,511.8 1250.1,514.5 1248.7,517.2 1247.3,519.9 1245.9,522.6 1244.5,525.3 1243.1,527.9 1241.6,530.6 1240.1,533.2 M1234,531.2 L1222,528.3"/>
<path stroke="#1A6FDF" d="M957.8,532.9 960,530.9 980.7,512.6 1000.4,496.5 1014.5,484 1028,469.5 1041.7,454.5 1055,440.7 1066.6,427.3 1079.5,410.2 1094.5,388.9 1112.2,364.2 1128.1,342.8 1143.4,321.4 1158.6,299.8 1173.7,281.2 1188.5,262.4 1202.5,246.2 1224.4,218.8 1246.3,189.8 1263,166.8 1278.2,146.6 1289.7,132.1 1297.8,121.3 1303.6,114.2 1335,125.6 1334.9,128.6 1334.8,131.6 1334.7,134.7 1334.5,137.7 1334.4,140.7 1334.2,143.7 1334,146.7 1333.8,149.7 1333.6,152.7 1333.4,155.7 1333.2,158.7 1333,161.7 1332.7,164.7 1332.4,167.7 1332.2,170.7 1331.9,173.7 1331.6,176.7 1331.3,179.7 1330.9,182.7 1330.6,185.7 1330.2,188.7 1329.9,191.7 1329.5,194.7 1329.1,197.7 1328.8,200.7 1328.4,203.7 1328,206.7 1327.5,209.6 1327.1,212.6 1326.7,215.6 1326.2,218.6 1325.8,221.6 1325.3,224.5 1324.8,227.5 1324.3,230.5 1323.8,233.5 1323.3,236.5 1322.8,239.4 1322.3,242.4 1321.8,245.4 1321.3,248.3 1320.7,251.3 1320.2,254.3 1319.6,257.2 1319,260.2 1318.5,263.2 1317.9,266.1 1317.3,269.1 1316.7,272.1 1316.1,275 1315.5,278 1314.9,280.9 1314.3,283.9 1313.6,286.8 1313,289.8 1312.4,292.8 1311.7,295.7 1311.1,298.7 1310.4,301.6 1309.7,304.6 1309.1,307.5 1308.4,310.5 1307.7,313.4 1307.1,316.4 1306.4,319.3 1305.7,322.3 1305,325.2 1304.3,328.1 1303.6,331.1 1302.9,334 1302.2,337 1301.5,339.9 1300.7,342.8 1300,345.8 1299.3,348.7 1298.6,351.7 1297.8,354.6 1297.1,357.5 1296.4,360.5 1295.6,363.4 1294.9,366.3 1294.2,369.3 1293.4,372.2 1292.7,375.1 1291.9,378 1291.1,381 1290.4,383.9 1289.6,386.8 1288.8,389.7 1288,392.7 1287.3,395.6 1286.5,398.5 1285.7,401.4 1284.9,404.3 1284,407.2 1283.2,410.1 1282.4,413 1281.5,415.9 1280.7,418.8 1279.8,421.7 1279,424.6 1278.1,427.5 1277.2,430.4 1276.3,433.2 1275.4,436.1 1274.5,439 1273.5,441.8 1272.6,444.7 1271.6,447.5 1270.7,450.4 1269.7,453.2 1268.7,456.1 1267.7,458.9 1266.7,461.8 1265.6,464.6 1264.6,467.4 1263.5,470.2 1262.5,473 1261.4,475.8 1260.3,478.6 1259.2,481.4 1258,484.2 1256.9,487 1255.7,489.8 1254.5,492.6 1253.3,495.3 1252.1,498.1 1250.9,500.8 1249.6,503.6 1248.3,506.3 1247,509 1245.7,511.8 1244.4,514.5 1243.1,517.2 1241.7,519.9 1240.3,522.6 1238.9,525.3 1237.5,527.9 1236,530.6 1234.6,533.2 M1229.4,531.2 L1217.7,528.3"/>
<path stroke="#37AD6B" d="M1016.1,532.2 1018.8,530.9 1033.9,523.7 1052.7,507.7 1067.5,490.4 1080.2,477.3 1094,464.9 1108.7,450.1 1122.5,436.1 1134.4,422.2 1144.6,410.1 1158.2,394.3 1170.4,379.5 1180.3,364.5 1188.9,349.7 1197.4,334.5 1211.1,309.1 1226.4,279.3 1242.7,248.1 1261.9,211 1277.6,178.3 1289.9,151.6 1299.7,132.9 1306.2,121.3 1310.6,113.9 1333,122.5 1332.7,125.5 1332.4,128.4 1332.1,131.4 1331.7,134.4 1331.4,137.4 1331.1,140.3 1330.8,143.3 1330.4,146.3 1330.1,149.3 1329.8,152.2 1329.4,155.2 1329.1,158.2 1328.8,161.2 1328.4,164.1 1328.1,167.1 1327.8,170.1 1327.4,173.1 1327.1,176.1 1326.7,179 1326.4,182 1326,185 1325.6,188 1325.3,191 1324.9,193.9 1324.5,196.9 1324.2,199.9 1323.8,202.9 1323.4,205.9 1323.1,208.8 1322.7,211.8 1322.3,214.8 1321.9,217.8 1321.5,220.8 1321.1,223.7 1320.7,226.7 1320.3,229.7 1319.9,232.7 1319.5,235.7 1319.1,238.7 1318.7,241.6 1318.3,244.6 1317.9,247.6 1317.4,250.6 1317,253.5 1316.6,256.5 1316.2,259.5 1315.7,262.5 1315.3,265.5 1314.8,268.4 1314.4,271.4 1313.9,274.4 1313.5,277.4 1313,280.3 1312.5,283.3 1312.1,286.3 1311.6,289.3 1311.1,292.2 1310.6,295.2 1310.2,298.2 1309.7,301.1 1309.2,304.1 1308.7,307.1 1308.2,310 1307.7,313 1307.1,316 1306.6,318.9 1306.1,321.9 1305.6,324.9 1305,327.8 1304.5,330.8 1304,333.7 1303.4,336.7 1302.9,339.7 1302.3,342.6 1301.7,345.6 1301.2,348.5 1300.6,351.5 1300,354.4 1299.4,357.4 1298.8,360.3 1298.3,363.3 1297.6,366.2 1297,369.2 1296.4,372.1 1295.8,375 1295.2,378 1294.5,380.9 1293.9,383.9 1293.2,386.8 1292.6,389.7 1291.9,392.6 1291.2,395.6 1290.5,398.5 1289.8,401.4 1289.1,404.3 1288.4,407.2 1287.7,410.1 1287,413 1286.2,415.9 1285.5,418.8 1284.7,421.7 1283.9,424.6 1283.1,427.5 1282.3,430.4 1281.5,433.3 1280.7,436.1 1279.8,439 1279,441.9 1278.1,444.7 1277.2,447.6 1276.3,450.4 1275.4,453.3 1274.5,456.1 1273.5,459 1272.6,461.8 1271.6,464.6 1270.6,467.5 1269.6,470.3 1268.6,473.1 1267.5,475.9 1266.5,478.7 1265.4,481.5 1264.3,484.3 1263.2,487 1262.1,489.8 1260.9,492.6 1259.8,495.3 1258.6,498.1 1257.4,500.8 1256.2,503.6 1255,506.3 1253.7,509 1252.4,511.8 1251.1,514.5 1249.8,517.2 1248.5,519.9 1247.1,522.6 1245.7,525.3 1244.3,527.9 1242.9,530.6 1241.5,533.2 M1237,531.2 L1225.3,528.3"/>
<path stroke="#B177DE" d="M977.8,532 980.6,530.9 993.3,525.8 1009.1,519.8 1030,512.9 1052.9,504.9 1071.5,494.3 1086.3,481.7 1101.3,468.8 1116.6,456 1133,444 1152.9,430.3 1171.7,417.2 1185.2,406.7 1197.3,395.6 1214.5,378.3 1234.6,354.7 1255.7,334.3 1271.5,322.1 1283.3,311.1 1294.9,294.1 1306.3,273.7 1319.7,248.5 1336,216.3 1350.5,183.9 1361.2,160.9 1369.7,143.2 1377.6,128.2 1385,115.9 1405.9,123.5 1405.6,126.5 1405.3,129.5 1405.1,132.5 1404.8,135.5 1404.5,138.5 1404.2,141.5 1403.9,144.5 1403.6,147.5 1403.3,150.5 1403,153.5 1402.6,156.5 1402.3,159.5 1402,162.5 1401.7,165.5 1401.4,168.5 1401,171.5 1400.7,174.5 1400.4,177.5 1400,180.5 1399.7,183.5 1399.3,186.5 1399,189.5 1398.6,192.5 1398.2,195.5 1397.9,198.5 1397.5,201.5 1397.1,204.5 1396.7,207.5 1396.4,210.5 1396,213.5 1395.6,216.5 1395.2,219.5 1394.8,222.5 1394.4,225.5 1394,228.5 1393.6,231.5 1393.1,234.4 1392.7,237.4 1392.3,240.4 1391.8,243.4 1391.4,246.4 1391,249.4 1390.5,252.4 1390.1,255.4 1389.6,258.4 1389.1,261.4 1388.7,264.4 1388.2,267.3 1387.7,270.3 1387.2,273.3 1386.7,276.3 1386.2,279.3 1385.7,282.3 1385.2,285.2 1384.7,288.2 1384.2,291.2 1383.7,294.2 1383.1,297.1 1382.6,300.1 1382.1,303.1 1381.5,306.1 1381,309 1380.4,312 1379.8,315 1379.3,317.9 1378.7,320.9 1378.1,323.8 1377.5,326.8 1376.9,329.8 1376.3,332.7 1375.7,335.7 1375.1,338.6 1374.5,341.6 1373.9,344.5 1373.2,347.5 1372.6,350.4 1372,353.4 1371.3,356.3 1370.6,359.2 1370,362.2 1369.3,365.1 1368.6,368 1367.9,371 1367.3,373.9 1366.6,376.8 1365.8,379.8 1365.1,382.7 1364.4,385.6 1363.7,388.5 1362.9,391.4 1362.2,394.3 1361.4,397.3 1360.6,400.2 1359.8,403.1 1359.1,406 1358.2,408.9 1357.4,411.8 1356.6,414.7 1355.7,417.6 1354.9,420.5 1354,423.3 1353.1,426.2 1352.2,429.1 1351.3,432 1350.4,434.9 1349.5,437.8 1348.5,440.6 1347.5,443.5 1346.6,446.4 1345.6,449.2 1344.6,452.1 1343.5,454.9 1342.5,457.8 1341.5,460.6 1340.4,463.5 1339.3,466.3 1338.2,469.1 1337.2,472 1336,474.8 1334.9,477.6 1333.8,480.4 1332.7,483.2 1331.5,486 1330.4,488.8 1329.2,491.5 1328,494.3 1326.8,497.1 1325.5,499.8 1324.2,502.5 1322.9,505.2 1321.6,507.9 1320.2,510.5 1318.7,513.2 1317.3,515.8 1315.7,518.3 1314.1,520.8 1312.5,523.3 1310.7,525.8 1309,528.2 1307.1,530.6 1305.3,533 M1302.7,531.4 L1291.1,526.8"/>
<path stroke="#CC9900" d="M988.3,533 990.5,530.9 1006,516.2 1024.1,499.6 1041,485.3 1058.8,468.5 1072.6,451.7 1086,431.7 1099.9,412 1114.9,392.6 1128,374 1140,357.4 1151,342.1 1162.6,324 1173,306.2 1186.8,282.5 1199.4,260.5 1210.4,242.8 1224.6,218.5 1239.9,190.8 1254.9,161.2 1268.3,134.8 1278.9,114.9 1301.8,124.3 1301.6,127.3 1301.3,130.3 1301,133.3 1300.8,136.2 1300.5,139.2 1300.2,142.2 1300,145.2 1299.7,148.2 1299.4,151.2 1299.1,154.1 1298.8,157.1 1298.5,160.1 1298.2,163.1 1297.8,166.1 1297.5,169.1 1297.2,172 1296.8,175 1296.5,178 1296.2,181 1295.8,184 1295.4,186.9 1295.1,189.9 1294.7,192.9 1294.3,195.9 1294,198.9 1293.6,201.8 1293.2,204.8 1292.8,207.8 1292.4,210.8 1292,213.8 1291.6,216.7 1291.1,219.7 1290.7,222.7 1290.3,225.7 1289.8,228.6 1289.4,231.6 1289,234.6 1288.5,237.6 1288,240.5 1287.6,243.5 1287.1,246.5 1286.6,249.4 1286.2,252.4 1285.7,255.4 1285.2,258.3 1284.7,261.3 1284.2,264.3 1283.7,267.2 1283.2,270.2 1282.6,273.2 1282.1,276.1 1281.6,279.1 1281,282 1280.5,285 1280,288 1279.4,290.9 1278.8,293.9 1278.3,296.8 1277.7,299.8 1277.1,302.7 1276.6,305.7 1276,308.6 1275.4,311.6 1274.8,314.5 1274.2,317.5 1273.6,320.4 1272.9,323.4 1272.3,326.3 1271.7,329.3 1271.1,332.2 1270.4,335.1 1269.8,338.1 1269.1,341 1268.5,344 1267.8,346.9 1267.2,349.8 1266.5,352.8 1265.8,355.7 1265.1,358.6 1264.5,361.6 1263.8,364.5 1263.1,367.4 1262.4,370.3 1261.6,373.3 1260.9,376.2 1260.2,379.1 1259.5,382 1258.7,384.9 1258,387.8 1257.2,390.7 1256.5,393.6 1255.7,396.6 1254.9,399.5 1254.1,402.4 1253.3,405.3 1252.5,408.1 1251.7,411 1250.9,413.9 1250.1,416.8 1249.2,419.7 1248.4,422.6 1247.5,425.4 1246.6,428.3 1245.7,431.2 1244.8,434 1243.9,436.9 1243,439.7 1242.1,442.6 1241.1,445.4 1240.2,448.3 1239.2,451.1 1238.2,453.9 1237.2,456.7 1236.2,459.6 1235.1,462.4 1234.1,465.2 1233,468 1232,470.8 1230.9,473.6 1229.8,476.3 1228.6,479.1 1227.5,481.9 1226.3,484.7 1225.2,487.4 1224,490.2 1222.8,492.9 1221.5,495.7 1220.3,498.4 1219,501.1 1217.8,503.8 1216.5,506.5 1215.1,509.2 1213.8,511.9 1212.5,514.6 1211.1,517.3 1209.7,520 1208.3,522.7 1206.8,525.3 1205.4,528 1203.9,530.6 1202.4,533.2 M1194.2,531.1 L1181.8,528.3"/>
<path stroke="#7D4E4E" d="M961.5,532.9 963.8,530.9 986.7,510.8 1009.6,491.2 1031.3,473.3 1047.9,458.5 1063.1,443.8 1078.4,430 1093.7,417.2 1109.6,403.1 1127.5,386.3 1142.9,370.6 1154.9,356 1163.9,342.8 1173.3,325.5 1182.4,306.6 1190.6,289.2 1199,273.6 1212.5,248.3 1231.3,215.1 1247.6,183.9 1262.4,155.4 1274.5,131.5 1283.7,113.5 1305,122.1 1304.7,125.1 1304.5,128.1 1304.2,131 1303.9,134 1303.6,137 1303.4,140 1303.1,143 1302.8,145.9 1302.5,148.9 1302.2,151.9 1301.9,154.9 1301.6,157.9 1301.3,160.9 1301,163.8 1300.6,166.8 1300.3,169.8 1300,172.8 1299.7,175.8 1299.3,178.8 1299,181.7 1298.6,184.7 1298.3,187.7 1297.9,190.7 1297.6,193.7 1297.2,196.7 1296.8,199.6 1296.5,202.6 1296.1,205.6 1295.7,208.6 1295.3,211.6 1294.9,214.6 1294.5,217.5 1294.1,220.5 1293.7,223.5 1293.3,226.5 1292.9,229.4 1292.5,232.4 1292,235.4 1291.6,238.4 1291.2,241.4 1290.7,244.3 1290.3,247.3 1289.8,250.3 1289.4,253.3 1288.9,256.2 1288.4,259.2 1288,262.2 1287.5,265.1 1287,268.1 1286.5,271.1 1286,274 1285.5,277 1285,280 1284.5,282.9 1284,285.9 1283.4,288.9 1282.9,291.8 1282.4,294.8 1281.8,297.7 1281.3,300.7 1280.7,303.6 1280.1,306.6 1279.6,309.6 1279,312.5 1278.4,315.5 1277.8,318.4 1277.2,321.4 1276.6,324.3 1276,327.2 1275.4,330.2 1274.8,333.1 1274.1,336.1 1273.5,339 1272.9,341.9 1272.2,344.9 1271.6,347.8 1270.9,350.7 1270.2,353.7 1269.5,356.6 1268.9,359.5 1268.2,362.4 1267.5,365.4 1266.8,368.3 1266,371.2 1265.3,374.1 1264.6,377 1263.9,379.9 1263.1,382.9 1262.4,385.8 1261.6,388.7 1260.8,391.6 1260.1,394.5 1259.3,397.4 1258.5,400.3 1257.7,403.2 1256.9,406.1 1256.1,409 1255.3,411.8 1254.4,414.7 1253.6,417.6 1252.8,420.5 1251.9,423.4 1251,426.2 1250.2,429.1 1249.3,432 1248.4,434.9 1247.5,437.7 1246.6,440.6 1245.7,443.4 1244.8,446.3 1243.9,449.2 1242.9,452 1242,454.9 1241,457.7 1240.1,460.5 1239.1,463.4 1238.1,466.2 1237.1,469.1 1236.1,471.9 1235.1,474.7 1234.1,477.5 1233.1,480.4 1232.1,483.2 1231,486 1230,488.8 1228.9,491.6 1227.8,494.4 1226.8,497.2 1225.7,500 1224.6,502.8 1223.5,505.6 1222.4,508.4 1221.2,511.2 1220.1,514 1219,516.8 1217.8,519.5 1216.6,522.3 1215.5,525.1 1214.3,527.8 1213.1,530.6 1211.9,533.4 M1211,531.3 L1197.8,527.6"/>
<path stroke="#8E8E00" d="M943.5,533.2 945.4,530.9 959.5,513.3 974,495 987,479.9 1000.1,465.2 1011.7,450.6 1022,434 1032.3,416.8 1041.6,401.9 1051.8,383.9 1065.8,357.7 1076.5,338.5 1086.9,321.2 1098.4,301.5 1115,276.7 1138.5,240.1 1155.9,210.4 1171.1,180.1 1185.4,149.1 1194.9,127.4 1200.6,114.9 1220.8,123.3 1220.6,126.3 1220.5,129.3 1220.3,132.3 1220.1,135.3 1219.9,138.3 1219.7,141.3 1219.5,144.3 1219.2,147.3 1219,150.3 1218.7,153.3 1218.5,156.3 1218.2,159.3 1218,162.3 1217.7,165.3 1217.4,168.3 1217.1,171.3 1216.8,174.2 1216.5,177.2 1216.2,180.2 1215.9,183.2 1215.5,186.2 1215.2,189.2 1214.9,192.1 1214.5,195.1 1214.2,198.1 1213.8,201.1 1213.4,204.1 1213,207 1212.7,210 1212.3,213 1211.9,216 1211.5,219 1211.1,221.9 1210.7,224.9 1210.2,227.9 1209.8,230.8 1209.4,233.8 1208.9,236.8 1208.5,239.8 1208.1,242.7 1207.6,245.7 1207.2,248.7 1206.7,251.6 1206.2,254.6 1205.8,257.6 1205.3,260.5 1204.8,263.5 1204.3,266.5 1203.8,269.4 1203.3,272.4 1202.8,275.4 1202.3,278.3 1201.8,281.3 1201.3,284.3 1200.8,287.2 1200.3,290.2 1199.8,293.1 1199.2,296.1 1198.7,299.1 1198.2,302 1197.7,305 1197.1,307.9 1196.6,310.9 1196,313.9 1195.5,316.8 1195,319.8 1194.4,322.7 1193.9,325.7 1193.3,328.7 1192.7,331.6 1192.2,334.6 1191.6,337.5 1191,340.5 1190.5,343.4 1189.9,346.4 1189.3,349.3 1188.7,352.3 1188.1,355.2 1187.5,358.2 1186.9,361.1 1186.3,364.1 1185.7,367 1185.1,370 1184.5,372.9 1183.9,375.9 1183.2,378.8 1182.6,381.7 1181.9,384.7 1181.3,387.6 1180.6,390.5 1179.9,393.5 1179.3,396.4 1178.6,399.3 1177.9,402.3 1177.2,405.2 1176.5,408.1 1175.8,411 1175,413.9 1174.3,416.9 1173.6,419.8 1172.8,422.7 1172.1,425.6 1171.3,428.5 1170.5,431.4 1169.7,434.3 1168.9,437.2 1168.1,440.1 1167.3,443 1166.5,445.8 1165.6,448.7 1164.8,451.6 1163.9,454.5 1163.1,457.3 1162.2,460.2 1161.3,463.1 1160.4,465.9 1159.5,468.8 1158.5,471.7 1157.6,474.5 1156.6,477.4 1155.7,480.2 1154.7,483 1153.7,485.9 1152.7,488.7 1151.7,491.5 1150.6,494.3 1149.6,497.2 1148.5,500 1147.5,502.8 1146.4,505.6 1145.3,508.4 1144.1,511.2 1143,514 1141.9,516.8 1140.7,519.5 1139.5,522.3 1138.3,525.1 1137.1,527.8 1135.9,530.6 1134.7,533.3 M1136,531.1 L1119.1,529.4"/>
</g>
<text x="895.58" y="567.50" font-size="30.5" textLength="17.25" lengthAdjust="spacingAndGlyphs">0</text>
<text x="985.05" y="567.50" font-size="30.5" textLength="51.74" lengthAdjust="spacingAndGlyphs">100</text>
<text x="1091.76" y="567.50" font-size="30.5" textLength="51.74" lengthAdjust="spacingAndGlyphs">200</text>
<text x="1198.48" y="567.50" font-size="30.5" textLength="51.74" lengthAdjust="spacingAndGlyphs">300</text>
<text x="1305.20" y="567.50" font-size="30.5" textLength="51.74" lengthAdjust="spacingAndGlyphs">400</text>
<text x="1411.91" y="567.50" font-size="30.5" textLength="51.74" lengthAdjust="spacingAndGlyphs">500</text>
<text x="1518.63" y="567.50" font-size="30.5" textLength="51.74" lengthAdjust="spacingAndGlyphs">600</text>
<text x="832.56" y="492.26" font-size="30.5" textLength="60.49" lengthAdjust="spacingAndGlyphs">0.02</text>
<text x="831.94" y="398.19" font-size="30.5" textLength="60.49" lengthAdjust="spacingAndGlyphs">0.04</text>
<text x="832.56" y="304.12" font-size="30.5" textLength="60.49" lengthAdjust="spacingAndGlyphs">0.06</text>
<text x="832.56" y="210.05" font-size="30.5" textLength="60.49" lengthAdjust="spacingAndGlyphs">0.08</text>
<text x="832.25" y="115.97" font-size="30.5" textLength="60.49" lengthAdjust="spacingAndGlyphs">0.10</text>
<text x="832.56" y="21.90" font-size="30.5" textLength="60.49" lengthAdjust="spacingAndGlyphs">0.12</text>
<text x="1089.53" y="611.20" font-size="31.3" textLength="269.47" lengthAdjust="spacingAndGlyphs" font-weight="bold">Displacements, nm</text>
<text transform="translate(814.70 402.62) rotate(-90)" x="0" y="0" font-size="31.3" textLength="289.83" lengthAdjust="spacingAndGlyphs" font-weight="bold">Load on sample, mN</text>
<text x="1436.58" y="58.10" font-size="31" textLength="90.00" lengthAdjust="spacingAndGlyphs">Case 2</text>
<clipPath id="c3"><rect x="109.25" y="672.95" width="641.50" height="521.50"/></clipPath>
<path d="M163.67,1193.30v-5.00 M216.93,1193.30v-10.00 M270.20,1193.30v-5.00 M323.47,1193.30v-10.00 M376.73,1193.30v-5.00 M430.00,1193.30v-10.00 M483.27,1193.30v-5.00 M536.53,1193.30v-10.00 M589.80,1193.30v-5.00 M643.07,1193.30v-10.00 M696.33,1193.30v-5.00 M110.40,1146.10h10.00 M110.40,1098.90h5.00 M110.40,1051.70h10.00 M110.40,1004.50h5.00 M110.40,957.30h10.00 M110.40,910.10h5.00 M110.40,862.90h10.00 M110.40,815.70h5.00 M110.40,768.50h10.00 M110.40,721.30h5.00" stroke="#000" stroke-width="2.3" fill="none"/>
<rect x="110.40" y="674.10" width="639.20" height="519.20" fill="none" stroke="#000" stroke-width="2.3"/>
<g clip-path="url(#c3)" fill="none" stroke-width="3.0" stroke-linejoin="miter" stroke-miterlimit="4" stroke-linecap="butt">
<path stroke="#515151" d="M124,1196.1 125.2,1193.4 126.5,1190.7 127.7,1187.9 129,1185.2 130.3,1182.5 131.6,1179.8 132.9,1177.1 134.3,1174.4 135.6,1171.7 136.9,1169 138.3,1166.3 139.7,1163.6 141,1160.9 142.4,1158.2 143.8,1155.6 145.2,1152.9 146.6,1150.2 148,1147.5 149.4,1144.9 150.8,1142.2 152.2,1139.5 153.6,1136.8 155,1134.2 156.3,1131.5 157.7,1128.8 159.1,1126.2 160.5,1123.5 161.9,1120.8 163.3,1118.1 164.6,1115.4 166,1112.7 167.3,1110 168.7,1107.3 170,1104.6 171.4,1101.9 172.7,1099.2 174,1096.5 175.3,1093.8 176.6,1091.1 177.9,1088.4 179.1,1085.6 180.4,1082.9 181.7,1080.2 182.9,1077.4 184.2,1074.7 185.4,1071.9 186.7,1069.2 187.9,1066.4 189.1,1063.7 190.3,1060.9 191.6,1058.2 192.8,1055.4 194,1052.7 195.2,1049.9 196.4,1047.1 197.6,1044.4 198.8,1041.6 200,1038.8 201.2,1036.1 202.3,1033.3 203.5,1030.5 204.7,1027.7 205.9,1025 207.1,1022.2 208.3,1019.4 209.4,1016.6 210.6,1013.9 211.8,1011.1 212.9,1008.3 214.1,1005.5 215.3,1002.8 216.4,1000 217.6,997.2 218.8,994.4 219.9,991.6 221.1,988.8 222.2,986.1 223.4,983.3 224.5,980.5 225.7,977.7 226.9,974.9 228,972.1 229.2,969.3 230.3,966.6 231.5,963.8 232.6,961 233.8,958.2 234.9,955.4 236.1,952.6 237.2,949.8 238.4,947.1 239.5,944.3 240.7,941.5 241.8,938.7 243,935.9 244.1,933.1 245.3,930.3 246.4,927.5 247.6,924.8 248.7,922 249.9,919.2 251.1,916.4 252.2,913.6 253.4,910.8 254.5,908.1 255.7,905.3 256.9,902.5 258,899.7 259.2,896.9 260.4,894.2 261.5,891.4 262.7,888.6 263.9,885.8 265,883 266.2,880.3 267.4,877.5 268.6,874.7 269.7,871.9 270.9,869.2 272.1,866.4 273.2,863.6 274.4,860.8 275.5,858 276.7,855.2 277.9,852.5 279,849.7 280.2,846.9 281.3,844.1 282.4,841.3 283.6,838.5 284.7,835.7 285.8,832.9 286.9,830.1 288,827.3 289.2,824.5 290.3,821.7 291.3,818.9 292.4,816.1 293.5,813.3 294.6,810.5 295.6,807.6 296.7,804.8 297.7,802 298.8,799.2 299.8,796.3 300.8,793.5 301.8,790.6 302.8,787.8 303.8,784.9 304.7,782.1 305.7,779.2 306.6,776.3 307.6,773.5 308.5,770.6 326.9,777.5 326.7,780.5 326.5,783.5 326.3,786.5 326.1,789.5 325.9,792.5 325.6,795.5 325.4,798.5 325.2,801.5 324.9,804.5 324.7,807.5 324.4,810.5 324.2,813.5 323.9,816.5 323.7,819.5 323.4,822.5 323.1,825.5 322.9,828.5 322.6,831.5 322.3,834.5 322,837.5 321.7,840.5 321.4,843.5 321.1,846.5 320.8,849.5 320.5,852.5 320.1,855.5 319.8,858.5 319.5,861.5 319.2,864.5 318.8,867.5 318.5,870.5 318.1,873.5 317.8,876.5 317.4,879.5 317.1,882.5 316.7,885.5 316.3,888.5 316,891.4 315.6,894.4 315.2,897.4 314.8,900.4 314.4,903.4 314.1,906.4 313.7,909.4 313.3,912.4 312.8,915.4 312.4,918.3 312,921.3 311.6,924.3 311.2,927.3 310.8,930.3 310.3,933.3 309.9,936.3 309.5,939.2 309,942.2 308.6,945.2 308.1,948.2 307.7,951.2 307.2,954.1 306.7,957.1 306.3,960.1 305.8,963.1 305.3,966.1 304.9,969 304.4,972 303.9,975 303.4,978 302.9,980.9 302.4,983.9 301.9,986.9 301.4,989.9 300.9,992.8 300.4,995.8 299.9,998.8 299.4,1001.8 298.9,1004.7 298.3,1007.7 297.8,1010.7 297.3,1013.6 296.7,1016.6 296.2,1019.6 295.7,1022.5 295.1,1025.5 294.6,1028.5 294,1031.4 293.5,1034.4 292.9,1037.4 292.4,1040.3 291.8,1043.3 291.2,1046.3 290.6,1049.2 290.1,1052.2 289.5,1055.1 288.9,1058.1 288.3,1061.1 287.8,1064 287.2,1067 286.6,1069.9 286,1072.9 285.4,1075.8 284.8,1078.8 284.2,1081.8 283.6,1084.7 283,1087.7 282.3,1090.6 281.7,1093.6 281.1,1096.5 280.5,1099.5 279.9,1102.4 279.2,1105.4 278.6,1108.3 278,1111.3 277.3,1114.2 276.7,1117.2 276.1,1120.1 275.4,1123 274.8,1126 274.1,1128.9 273.5,1131.9 272.8,1134.8 272.2,1137.8 271.5,1140.7 270.8,1143.6 270.2,1146.6 269.5,1149.5 268.8,1152.5 268.2,1155.4 267.5,1158.3 266.8,1161.3 266.1,1164.2 265.4,1167.1 264.8,1170.1 264.1,1173 263.4,1175.9 262.7,1178.9 262,1181.8 L257.6,1180.5"/>
<path stroke="#F14040" d="M155.1,1195.4 157.3,1193.4 159.5,1191.4 161.7,1189.3 163.9,1187.3 166.1,1185.2 168.4,1183.2 170.6,1181.1 172.8,1179.1 175,1177.1 177.2,1175 179.4,1173 181.6,1171 183.8,1168.9 186.1,1166.9 188.3,1164.9 190.5,1162.9 192.7,1160.8 194.9,1158.8 197.1,1156.8 199.3,1154.7 201.5,1152.7 203.7,1150.7 205.9,1148.6 208.2,1146.6 210.4,1144.5 212.6,1142.5 214.7,1140.5 216.9,1138.4 219.1,1136.4 221.3,1134.3 223.5,1132.3 225.7,1130.2 227.9,1128.2 230.1,1126.1 232.2,1124 234.4,1122 236.6,1119.9 238.7,1117.8 240.9,1115.7 243.1,1113.6 245.2,1111.5 247.4,1109.4 249.5,1107.3 251.7,1105.2 253.8,1103.1 255.9,1101 258.1,1098.9 260.2,1096.7 262.3,1094.6 264.4,1092.5 266.5,1090.3 268.6,1088.2 270.7,1086 272.8,1083.8 274.9,1081.6 276.9,1079.4 279,1077.3 281,1075.1 283.1,1072.8 285.1,1070.6 287.1,1068.4 289.2,1066.2 291.2,1063.9 293.1,1061.7 295.1,1059.4 297.1,1057.1 299,1054.8 301,1052.6 302.9,1050.3 304.8,1047.9 306.8,1045.6 308.6,1043.3 310.5,1041 312.4,1038.6 314.2,1036.2 316.1,1033.9 317.9,1031.5 319.7,1029.1 321.5,1026.7 323.3,1024.3 325,1021.8 326.8,1019.4 328.5,1016.9 330.2,1014.5 331.9,1012 333.6,1009.5 335.3,1007.1 337,1004.6 338.6,1002.1 340.3,999.6 342,997.1 343.6,994.5 345.2,992 346.9,989.5 348.5,987 350.2,984.5 351.8,982 353.4,979.5 355.1,976.9 356.7,974.4 358.4,971.9 360,969.4 361.7,966.9 363.4,964.4 365.1,961.9 366.7,959.4 368.4,956.9 370.2,954.5 371.9,952 373.6,949.5 375.3,947.1 377,944.6 378.8,942.1 380.5,939.7 382.2,937.2 384,934.8 385.7,932.3 387.4,929.9 389.2,927.4 390.9,924.9 392.6,922.5 394.3,920 396,917.5 397.7,915.1 399.4,912.6 401.1,910.1 402.8,907.6 404.4,905.1 406.1,902.6 407.7,900.1 409.3,897.5 410.9,895 412.5,892.4 414,889.9 415.6,887.3 417.1,884.7 418.6,882.1 420.1,879.6 421.6,876.9 423.1,874.3 424.5,871.7 426,869.1 427.4,866.4 428.8,863.8 430.3,861.2 431.7,858.5 433.1,855.8 434.5,853.2 435.8,850.5 437.2,847.8 438.6,845.2 440,842.5 441.3,839.8 442.7,837.1 444,834.4 445.4,831.8 446.7,829.1 448.1,826.4 449.4,823.7 450.8,821 452.1,818.3 453.4,815.6 454.8,812.9 456.1,810.2 457.5,807.5 458.8,804.9 460.2,802.2 461.5,799.5 462.9,796.8 464.3,794.1 465.7,791.5 467,788.8 468.4,786.1 469.8,783.5 471.2,780.8 472.6,778.2 474.1,775.5 475.5,772.9 496.9,781 496.7,784 496.5,787 496.3,790 496,793 495.8,796 495.6,799 495.3,802 495.1,805 494.8,807.9 494.5,810.9 494.2,813.9 493.9,816.9 493.6,819.9 493.3,822.9 493,825.9 492.7,828.9 492.4,831.9 492,834.8 491.7,837.8 491.3,840.8 491,843.8 490.6,846.8 490.2,849.8 489.9,852.8 489.5,855.7 489.1,858.7 488.7,861.7 488.3,864.7 487.8,867.7 487.4,870.6 487,873.6 486.6,876.6 486.1,879.6 485.7,882.6 485.2,885.5 484.7,888.5 484.3,891.5 483.8,894.5 483.3,897.4 482.8,900.4 482.3,903.4 481.8,906.4 481.3,909.3 480.8,912.3 480.3,915.3 479.8,918.2 479.3,921.2 478.7,924.2 478.2,927.1 477.6,930.1 477.1,933.1 476.5,936 476,939 475.4,942 474.8,944.9 474.2,947.9 473.7,950.8 473.1,953.8 472.5,956.8 471.9,959.7 471.3,962.7 470.7,965.6 470,968.6 469.4,971.5 468.8,974.5 468.2,977.4 467.5,980.4 466.9,983.3 466.2,986.3 465.6,989.2 464.9,992.2 464.3,995.1 463.6,998.1 463,1001 462.3,1004 461.6,1006.9 460.9,1009.8 460.3,1012.8 459.6,1015.7 458.9,1018.7 458.2,1021.6 457.5,1024.5 456.8,1027.5 456.1,1030.4 455.4,1033.3 454.7,1036.3 453.9,1039.2 453.2,1042.1 452.5,1045 451.7,1048 451,1050.9 450.2,1053.8 449.4,1056.7 448.7,1059.6 447.9,1062.5 447.1,1065.4 446.3,1068.3 445.5,1071.2 444.6,1074.1 443.8,1077 443,1079.9 442.1,1082.8 441.3,1085.7 440.4,1088.6 439.5,1091.4 438.6,1094.3 437.7,1097.2 436.8,1100 435.8,1102.9 434.9,1105.7 433.9,1108.6 433,1111.4 432,1114.2 431,1117.1 430,1119.9 429,1122.7 427.9,1125.5 426.9,1128.3 425.8,1131.1 424.7,1133.9 423.6,1136.7 422.5,1139.5 421.3,1142.3 420.2,1145 419,1147.8 417.8,1150.5 416.6,1153.3 415.4,1156 414.2,1158.8 412.9,1161.5 411.6,1164.2 410.3,1166.9 409,1169.6 407.7,1172.3 406.3,1175 404.9,1177.7 403.5,1180.3 402.1,1183 400.7,1185.7 399.2,1188.3 L384.2,1182.7"/>
<path stroke="#1A6FDF" d="M154.9,1195.2 157.3,1193.4 159.7,1191.6 162.2,1189.9 164.6,1188.1 167,1186.3 169.5,1184.5 171.9,1182.8 174.3,1181 176.7,1179.2 179.2,1177.4 181.6,1175.6 184,1173.8 186.4,1172 188.8,1170.2 191.2,1168.4 193.6,1166.5 196,1164.7 198.4,1162.9 200.7,1161 203.1,1159.2 205.5,1157.4 207.8,1155.5 210.2,1153.6 212.5,1151.8 214.9,1149.9 217.2,1148 219.6,1146.1 221.9,1144.2 224.2,1142.3 226.5,1140.4 228.8,1138.4 231.1,1136.5 233.4,1134.5 235.7,1132.6 237.9,1130.6 240.2,1128.6 242.5,1126.6 244.7,1124.6 246.9,1122.6 249.2,1120.6 251.4,1118.6 253.6,1116.5 255.8,1114.5 258,1112.4 260.2,1110.3 262.4,1108.2 264.5,1106.1 266.7,1104 268.8,1101.9 270.9,1099.7 273.1,1097.6 275.2,1095.4 277.3,1093.3 279.3,1091.1 281.4,1088.9 283.5,1086.7 285.5,1084.5 287.6,1082.3 289.6,1080.1 291.6,1077.8 293.6,1075.6 295.6,1073.3 297.6,1071.1 299.5,1068.8 301.5,1066.5 303.4,1064.2 305.3,1061.9 307.2,1059.6 309.1,1057.2 310.9,1054.9 312.8,1052.5 314.6,1050.1 316.4,1047.7 318.2,1045.3 319.9,1042.9 321.7,1040.5 323.4,1038 325.1,1035.6 326.8,1033.1 328.5,1030.6 330.1,1028.1 331.8,1025.6 333.4,1023 335,1020.5 336.6,1018 338.2,1015.4 339.7,1012.8 341.3,1010.3 342.8,1007.7 344.4,1005.1 345.9,1002.5 347.5,999.9 349,997.3 350.5,994.7 352,992.1 353.5,989.5 355,986.9 356.5,984.3 358.1,981.7 359.6,979.1 361.1,976.5 362.6,973.9 364.1,971.3 365.6,968.7 367.2,966.1 368.7,963.5 370.2,960.9 371.8,958.3 373.3,955.7 374.9,953.2 376.4,950.6 377.9,948 379.5,945.4 381,942.8 382.5,940.2 384,937.6 385.4,935 386.9,932.4 388.3,929.8 389.8,927.1 391.2,924.5 392.5,921.8 393.9,919.1 395.2,916.4 396.5,913.8 397.8,911 399.1,908.3 400.4,905.6 401.6,902.9 402.8,900.1 404,897.4 405.2,894.6 406.4,891.9 407.5,889.1 408.7,886.3 409.8,883.5 410.9,880.7 412,877.9 413.1,875.1 414.2,872.3 415.3,869.5 416.4,866.7 417.5,863.9 418.6,861 419.6,858.2 420.7,855.4 421.8,852.6 422.8,849.8 423.9,846.9 425,844.1 426,841.3 427.1,838.5 428.2,835.7 429.3,832.9 430.4,830.1 431.5,827.3 432.6,824.5 433.8,821.7 434.9,818.9 436.1,816.1 437.2,813.3 438.4,810.6 439.6,807.8 440.8,805 442,802.3 443.2,799.5 444.4,796.8 445.6,794 446.9,791.3 448.1,788.6 449.3,785.8 450.6,783.1 451.9,780.4 453.1,777.6 454.4,774.9 470.5,781.8 470.3,784.8 470,787.8 469.8,790.8 469.6,793.7 469.3,796.7 469.1,799.7 468.8,802.7 468.5,805.7 468.3,808.7 468,811.6 467.7,814.6 467.4,817.6 467.1,820.6 466.8,823.6 466.5,826.6 466.2,829.6 465.9,832.5 465.6,835.5 465.3,838.5 464.9,841.5 464.6,844.5 464.3,847.5 463.9,850.5 463.6,853.4 463.2,856.4 462.9,859.4 462.5,862.4 462.1,865.4 461.7,868.4 461.4,871.3 461,874.3 460.6,877.3 460.2,880.3 459.8,883.3 459.4,886.2 459,889.2 458.5,892.2 458.1,895.2 457.7,898.2 457.3,901.1 456.8,904.1 456.4,907.1 455.9,910.1 455.5,913.1 455,916 454.5,919 454.1,922 453.6,925 453.1,927.9 452.6,930.9 452.1,933.9 451.6,936.8 451.1,939.8 450.6,942.8 450.1,945.8 449.6,948.7 449.1,951.7 448.5,954.7 448,957.6 447.5,960.6 446.9,963.6 446.4,966.5 445.8,969.5 445.3,972.4 444.7,975.4 444.1,978.4 443.6,981.3 443,984.3 442.4,987.2 441.8,990.2 441.2,993.1 440.6,996.1 440,999.1 439.4,1002 438.8,1005 438.2,1007.9 437.5,1010.9 436.9,1013.8 436.3,1016.7 435.6,1019.7 435,1022.6 434.3,1025.6 433.7,1028.5 433,1031.4 432.3,1034.4 431.6,1037.3 430.9,1040.2 430.2,1043.2 429.5,1046.1 428.8,1049 428.1,1051.9 427.4,1054.9 426.6,1057.8 425.9,1060.7 425.1,1063.6 424.4,1066.5 423.6,1069.4 422.8,1072.3 422,1075.2 421.2,1078.1 420.4,1081 419.5,1083.9 418.7,1086.7 417.8,1089.6 416.9,1092.5 416.1,1095.3 415.2,1098.2 414.3,1101.1 413.3,1103.9 412.4,1106.8 411.5,1109.6 410.5,1112.4 409.5,1115.3 408.5,1118.1 407.5,1120.9 406.5,1123.7 405.5,1126.5 404.4,1129.3 403.3,1132.1 402.3,1134.9 401.2,1137.7 400,1140.5 398.9,1143.2 397.8,1146 396.6,1148.8 395.4,1151.5 394.2,1154.3 393,1157 391.7,1159.7 390.5,1162.5 389.2,1165.2 387.9,1167.9 386.6,1170.6 385.2,1173.3 383.9,1176 382.5,1178.6 381.1,1181.3 379.7,1184 378.2,1186.6 376.8,1189.3 375.3,1191.9 L360,1186"/>
<path stroke="#00CBCC" d="M116,1196.4 116.5,1193.4 117,1190.4 117.5,1187.5 118,1184.5 118.5,1181.5 119.1,1178.6 119.6,1175.6 120.1,1172.7 120.7,1169.7 121.2,1166.8 121.8,1163.8 122.4,1160.9 122.9,1157.9 123.5,1155 124.1,1152 124.7,1149.1 125.3,1146.2 125.9,1143.2 126.5,1140.3 127.1,1137.3 127.8,1134.4 128.4,1131.5 129,1128.5 129.7,1125.6 130.3,1122.7 131,1119.7 131.6,1116.8 132.3,1113.9 133,1111 133.6,1108 134.3,1105.1 135,1102.2 135.7,1099.3 136.4,1096.4 137.1,1093.4 137.8,1090.5 138.5,1087.6 139.2,1084.7 139.9,1081.8 140.7,1078.9 141.4,1076 142.1,1073 142.8,1070.1 143.6,1067.2 144.3,1064.3 145.1,1061.4 145.8,1058.5 146.5,1055.6 147.3,1052.7 148.1,1049.8 148.8,1046.9 149.6,1044 150.3,1041.1 151.1,1038.2 151.9,1035.3 152.7,1032.4 153.4,1029.5 154.2,1026.6 155,1023.7 155.8,1020.8 156.6,1017.9 157.3,1015 158.1,1012.1 158.9,1009.2 159.7,1006.3 160.5,1003.4 161.3,1000.5 162.1,997.6 162.9,994.7 163.7,991.8 164.5,988.9 165.3,986 166.1,983.1 166.9,980.2 167.7,977.3 168.5,974.4 169.3,971.5 170.1,968.6 170.9,965.7 171.7,962.8 172.5,959.9 173.3,957.1 174.1,954.2 174.9,951.3 175.7,948.4 176.5,945.5 177.3,942.6 178.2,939.7 179,936.8 179.8,933.9 180.6,931 181.4,928.1 182.2,925.2 183,922.3 183.8,919.4 184.5,916.5 185.3,913.6 186.1,910.7 186.9,907.8 187.7,904.9 188.5,902 189.3,899.1 190.1,896.2 190.9,893.3 191.6,890.4 192.4,887.5 193.2,884.6 194,881.7 194.7,878.8 195.5,875.9 196.3,873 197,870.1 197.8,867.2 198.5,864.3 199.3,861.4 200,858.5 200.8,855.6 201.5,852.7 202.3,849.8 203,846.8 203.7,843.9 204.5,841 205.2,838.1 205.9,835.2 206.6,832.3 207.3,829.3 208,826.4 208.7,823.5 209.4,820.6 210.1,817.7 210.8,814.7 211.5,811.8 212.2,808.9 212.8,806 213.5,803 214.2,800.1 214.8,797.2 215.5,794.3 216.1,791.3 216.8,788.4 217.4,785.5 218,782.5 218.7,779.6 219.3,776.6 219.9,773.7 232.4,778.3 232.3,781.3 232.2,784.3 232.1,787.4 232,790.4 231.9,793.4 231.8,796.4 231.7,799.4 231.6,802.4 231.5,805.4 231.4,808.5 231.3,811.5 231.2,814.5 231.1,817.5 230.9,820.5 230.8,823.5 230.7,826.6 230.5,829.6 230.4,832.6 230.3,835.6 230.1,838.6 230,841.6 229.8,844.6 229.7,847.7 229.5,850.7 229.4,853.7 229.2,856.7 229.1,859.7 228.9,862.7 228.7,865.7 228.6,868.7 228.4,871.8 228.2,874.8 228,877.8 227.9,880.8 227.7,883.8 227.5,886.8 227.3,889.8 227.1,892.8 226.9,895.9 226.7,898.9 226.5,901.9 226.3,904.9 226.1,907.9 225.9,910.9 225.7,913.9 225.5,916.9 225.3,919.9 225.1,923 224.9,926 224.7,929 224.5,932 224.2,935 224,938 223.8,941 223.6,944 223.3,947 223.1,950 222.9,953 222.7,956.1 222.4,959.1 222.2,962.1 221.9,965.1 221.7,968.1 221.5,971.1 221.2,974.1 221,977.1 220.7,980.1 220.5,983.1 220.2,986.1 220,989.1 219.7,992.2 219.5,995.2 219.2,998.2 218.9,1001.2 218.7,1004.2 218.4,1007.2 218.1,1010.2 217.9,1013.2 217.6,1016.2 217.3,1019.2 217.1,1022.2 216.8,1025.2 216.5,1028.2 216.3,1031.2 216,1034.2 215.7,1037.2 215.4,1040.3 215.1,1043.3 214.9,1046.3 214.6,1049.3 214.3,1052.3 214,1055.3 213.7,1058.3 213.4,1061.3 213.2,1064.3 212.9,1067.3 212.6,1070.3 212.3,1073.3 212,1076.3 211.7,1079.3 211.4,1082.3 211.1,1085.3 210.8,1088.3 210.5,1091.3 210.2,1094.3 209.9,1097.3 209.6,1100.3 209.3,1103.3 209,1106.3 208.7,1109.3 208.4,1112.4 208.1,1115.4 207.8,1118.4 207.5,1121.4 207.2,1124.4 206.9,1127.4 206.6,1130.4 206.3,1133.4 206,1136.4 205.7,1139.4 205.4,1142.4 205.1,1145.4 204.8,1148.4 204.5,1151.4 204.1,1154.4 203.8,1157.4 203.5,1160.4 203.2,1163.4 202.9,1166.4 202.6,1169.4 202.3,1172.4 202,1175.4 201.7,1178.4 201.3,1181.4 201,1184.4 200.7,1187.4 200.4,1190.4 200.1,1193.4 199.8,1196.4"/>
<path stroke="#8E8E00" d="M162,1195.4 164.2,1193.4 166.4,1191.4 168.6,1189.3 170.9,1187.3 173.1,1185.3 175.3,1183.2 177.6,1181.2 179.8,1179.2 182,1177.2 184.3,1175.2 186.5,1173.2 188.8,1171.2 191.1,1169.2 193.3,1167.3 195.6,1165.3 197.9,1163.3 200.2,1161.3 202.5,1159.4 204.7,1157.4 207,1155.5 209.3,1153.5 211.6,1151.6 213.9,1149.7 216.3,1147.7 218.6,1145.8 220.9,1143.9 223.2,1142 225.5,1140.1 227.9,1138.1 230.2,1136.2 232.6,1134.4 234.9,1132.5 237.2,1130.6 239.6,1128.7 242,1126.8 244.3,1125 246.7,1123.1 249,1121.2 251.4,1119.4 253.8,1117.5 256.2,1115.7 258.6,1113.8 261,1112 263.3,1110.2 265.7,1108.4 268.1,1106.5 270.5,1104.7 273,1102.9 275.4,1101.1 277.8,1099.3 280.2,1097.5 282.6,1095.7 285,1094 287.5,1092.2 289.9,1090.4 292.3,1088.6 294.8,1086.9 297.2,1085.1 299.7,1083.4 302.1,1081.6 304.6,1079.9 307,1078.1 309.5,1076.4 312,1074.7 314.4,1072.9 316.9,1071.2 319.4,1069.5 321.8,1067.8 324.3,1066 326.8,1064.3 329.3,1062.6 331.7,1060.9 334.2,1059.2 336.7,1057.5 339.2,1055.8 341.7,1054.1 344.1,1052.4 346.6,1050.7 349.1,1049 351.6,1047.3 354.1,1045.6 356.6,1043.9 359.1,1042.2 361.6,1040.5 364.1,1038.8 366.6,1037.1 369.1,1035.5 371.5,1033.8 374,1032.1 376.5,1030.4 379,1028.7 381.5,1027 384,1025.3 386.5,1023.6 389,1021.9 391.5,1020.3 394,1018.6 396.5,1016.9 399,1015.2 401.5,1013.5 403.9,1011.8 406.4,1010.1 408.9,1008.4 411.4,1006.7 413.9,1005 416.4,1003.3 418.8,1001.6 421.3,999.9 423.8,998.1 426.3,996.4 428.7,994.7 431.2,993 433.7,991.3 436.2,989.6 438.6,987.8 441.1,986.1 443.5,984.4 446,982.6 448.5,980.9 450.9,979.2 453.4,977.4 455.8,975.7 458.3,973.9 460.7,972.2 463.2,970.4 465.6,968.7 468.1,966.9 470.5,965.1 472.9,963.4 475.4,961.6 477.8,959.8 480.2,958.1 482.7,956.3 485.1,954.5 487.5,952.7 489.9,950.9 492.3,949.1 494.8,947.3 497.2,945.5 499.6,943.7 502,941.9 504.4,940.1 506.8,938.2 509.2,936.4 511.5,934.6 513.9,932.7 516.3,930.9 518.7,929.1 521.1,927.2 523.5,925.4 525.8,923.5 528.2,921.6 530.6,919.8 532.9,917.9 535.3,916.1 537.7,914.2 540.1,912.3 542.4,910.5 544.8,908.6 547.2,906.7 549.5,904.9 551.9,903 554.2,901.1 556.6,899.3 559,897.4 561.3,895.5 563.7,893.7 566.1,891.8 568.4,889.9 570.8,888.1 573.2,886.2 575.5,884.4 577.9,882.5 580.3,880.6 582.7,878.8 585,876.9 587.4,875.1 589.8,873.2 592.2,871.4 594.6,869.5 596.9,867.7 599.3,865.8 601.7,864 604,862.1 606.4,860.3 608.8,858.4 611.1,856.5 613.4,854.6 615.8,852.7 618.1,850.8 620.4,848.9 622.7,846.9 624.9,845 627.2,843 629.4,841 631.7,839 633.9,836.9 636.1,834.9 638.2,832.8 640.4,830.8 642.6,828.7 644.7,826.6 646.9,824.5 649,822.3 651.1,820.2 653.2,818 655.3,815.9 657.4,813.7 659.4,811.5 661.5,809.3 663.6,807.1 665.6,804.9 667.7,802.7 669.7,800.5 671.8,798.3 673.9,796.1 675.9,793.9 678,791.7 680.1,789.5 682.1,787.3 684.2,785.2 686.3,783 688.4,780.9 690.6,778.7 692.7,776.6 727.1,788.5 726.9,791.5 726.6,794.5 726.3,797.5 726,800.5 725.7,803.5 725.4,806.5 725.1,809.5 724.7,812.5 724.4,815.4 724,818.4 723.6,821.4 723.2,824.4 722.8,827.4 722.4,830.3 722,833.3 721.5,836.3 721,839.3 720.6,842.2 720.1,845.2 719.6,848.2 719.1,851.1 718.6,854.1 718.1,857.1 717.5,860 717,863 716.4,865.9 715.9,868.9 715.3,871.8 714.7,874.8 714.1,877.7 713.5,880.7 712.8,883.6 712.2,886.5 711.6,889.5 710.9,892.4 710.3,895.4 709.6,898.3 708.9,901.2 708.2,904.2 707.5,907.1 706.8,910 706.1,912.9 705.3,915.9 704.6,918.8 703.9,921.7 703.1,924.6 702.3,927.5 701.6,930.4 700.8,933.4 700,936.3 699.2,939.2 698.4,942.1 697.6,945 696.8,947.9 695.9,950.8 695.1,953.7 694.3,956.6 693.4,959.5 692.6,962.4 691.7,965.3 690.8,968.2 689.9,971 689.1,973.9 688.2,976.8 687.3,979.7 686.4,982.6 685.4,985.5 684.5,988.4 683.6,991.2 682.7,994.1 681.7,997 680.8,999.9 679.8,1002.7 678.9,1005.6 677.9,1008.5 677,1011.3 676,1014.2 675,1017.1 674,1019.9 673,1022.8 672,1025.6 671,1028.5 670,1031.3 669,1034.2 668,1037 666.9,1039.8 665.9,1042.7 664.8,1045.5 663.8,1048.3 662.7,1051.2 661.6,1054 660.5,1056.8 659.4,1059.6 658.3,1062.4 657.2,1065.2 656,1068 654.9,1070.8 653.7,1073.5 652.5,1076.3 651.3,1079.1 650.1,1081.8 648.9,1084.6 647.7,1087.3 646.4,1090 645.2,1092.8 643.9,1095.5 642.6,1098.2 641.3,1100.9 640,1103.6 638.7,1106.3 637.3,1109 635.9,1111.6 634.6,1114.3 633.1,1116.9 631.7,1119.6 630.3,1122.2 628.8,1124.8 627.4,1127.4 625.9,1130 624.4,1132.6 622.8,1135.2 621.3,1137.7 619.7,1140.3 618.1,1142.8 616.5,1145.4 614.9,1147.9 613.2,1150.4 611.6,1152.9 609.9,1155.4 608.2,1157.8 606.4,1160.3 604.7,1162.7 602.9,1165.2 601.1,1167.6 599.2,1170 597.4,1172.4 595.5,1174.7 593.6,1177.1 591.7,1179.5 589.7,1181.8 587.8,1184.1 585.8,1186.4 583.7,1188.7 581.7,1190.9 579.6,1193.2 577.6,1195.4 M573,1193.5 L551.3,1187.1"/>
</g>
<text x="101.78" y="1229.90" font-size="30.5" textLength="17.25" lengthAdjust="spacingAndGlyphs">0</text>
<text x="191.06" y="1229.90" font-size="30.5" textLength="51.74" lengthAdjust="spacingAndGlyphs">100</text>
<text x="297.60" y="1229.90" font-size="30.5" textLength="51.74" lengthAdjust="spacingAndGlyphs">200</text>
<text x="404.13" y="1229.90" font-size="30.5" textLength="51.74" lengthAdjust="spacingAndGlyphs">300</text>
<text x="510.66" y="1229.90" font-size="30.5" textLength="51.74" lengthAdjust="spacingAndGlyphs">400</text>
<text x="617.20" y="1229.90" font-size="30.5" textLength="51.74" lengthAdjust="spacingAndGlyphs">500</text>
<text x="723.73" y="1229.90" font-size="30.5" textLength="51.74" lengthAdjust="spacingAndGlyphs">600</text>
<text x="38.76" y="1154.50" font-size="30.5" textLength="60.49" lengthAdjust="spacingAndGlyphs">0.02</text>
<text x="38.14" y="1060.10" font-size="30.5" textLength="60.49" lengthAdjust="spacingAndGlyphs">0.04</text>
<text x="38.76" y="965.70" font-size="30.5" textLength="60.49" lengthAdjust="spacingAndGlyphs">0.06</text>
<text x="38.76" y="871.30" font-size="30.5" textLength="60.49" lengthAdjust="spacingAndGlyphs">0.08</text>
<text x="38.45" y="776.90" font-size="30.5" textLength="60.49" lengthAdjust="spacingAndGlyphs">0.10</text>
<text x="38.76" y="682.50" font-size="30.5" textLength="60.49" lengthAdjust="spacingAndGlyphs">0.12</text>
<text x="295.74" y="1278.00" font-size="31.3" textLength="268.36" lengthAdjust="spacingAndGlyphs" font-weight="bold">Displacements, nm</text>
<text transform="translate(23.00 1064.17) rotate(-90)" x="0" y="0" font-size="31.3" textLength="288.92" lengthAdjust="spacingAndGlyphs" font-weight="bold">Load on sample, mN</text>
<text x="641.39" y="718.40" font-size="31" textLength="89.38" lengthAdjust="spacingAndGlyphs">Case 3</text>
<clipPath id="c4"><rect x="900.75" y="669.85" width="645.20" height="528.15"/></clipPath>
<path d="M955.48,1196.85v-5.00 M1009.05,1196.85v-10.00 M1062.62,1196.85v-5.00 M1116.20,1196.85v-10.00 M1169.78,1196.85v-5.00 M1223.35,1196.85v-10.00 M1276.92,1196.85v-5.00 M1330.50,1196.85v-10.00 M1384.07,1196.85v-5.00 M1437.65,1196.85v-10.00 M1491.22,1196.85v-5.00 M901.90,1149.05h10.00 M901.90,1101.24h5.00 M901.90,1053.44h10.00 M901.90,1005.63h5.00 M901.90,957.83h10.00 M901.90,910.02h5.00 M901.90,862.22h10.00 M901.90,814.41h5.00 M901.90,766.61h10.00 M901.90,718.80h5.00" stroke="#000" stroke-width="2.3" fill="none"/>
<rect x="901.90" y="671.00" width="642.90" height="525.85" fill="none" stroke="#000" stroke-width="2.3"/>
<g clip-path="url(#c4)" fill="none" stroke-width="3.0" stroke-linejoin="miter" stroke-miterlimit="4" stroke-linecap="butt">
<path stroke="#F14040" d="M970.5,1197.7 973.3,1196.7 987.4,1191.5 1000.1,1185.4 1012.8,1173.4 1027.6,1159 1042.9,1146.3 1058.1,1133.6 1073.4,1119.6 1088,1108.9 1099.8,1101.9 1112,1094 1129.6,1081.3 1145.5,1068.9 1158.6,1059.2 1169.7,1049.5 1181.3,1037.1 1195.9,1022 1211.1,1005.8 1226.4,989.9 1241.7,972.9 1256.7,954.2 1271.1,937 1287.2,917.3 1302,898 1318,873.3 1331.5,853.9 1342.3,838.7 1352.6,820.9 1361.8,802.1 1369.5,786.7 1375.9,774.8 1394.2,782.6 1393.8,785.6 1393.5,788.5 1393.1,791.5 1392.8,794.5 1392.4,797.5 1392,800.4 1391.6,803.4 1391.3,806.4 1390.9,809.4 1390.5,812.3 1390.1,815.3 1389.7,818.3 1389.3,821.3 1388.9,824.3 1388.5,827.3 1388.1,830.2 1387.7,833.2 1387.3,836.2 1386.9,839.2 1386.5,842.2 1386,845.2 1385.6,848.1 1385.2,851.1 1384.8,854.1 1384.3,857.1 1383.9,860.1 1383.4,863.1 1383,866.1 1382.5,869 1382,872 1381.6,875 1381.1,878 1380.6,881 1380.1,884 1379.7,887 1379.2,889.9 1378.7,892.9 1378.2,895.9 1377.7,898.9 1377.1,901.9 1376.6,904.9 1376.1,907.8 1375.6,910.8 1375,913.8 1374.5,916.8 1373.9,919.7 1373.4,922.7 1372.8,925.7 1372.2,928.7 1371.7,931.6 1371.1,934.6 1370.5,937.6 1369.9,940.5 1369.3,943.5 1368.7,946.5 1368.1,949.4 1367.5,952.4 1366.8,955.4 1366.2,958.3 1365.6,961.3 1364.9,964.2 1364.3,967.2 1363.6,970.1 1362.9,973.1 1362.2,976 1361.5,979 1360.9,981.9 1360.2,984.9 1359.4,987.8 1358.7,990.7 1358,993.7 1357.3,996.6 1356.5,999.5 1355.8,1002.4 1355,1005.4 1354.2,1008.3 1353.5,1011.2 1352.7,1014.1 1351.9,1017 1351.1,1019.9 1350.3,1022.9 1349.4,1025.8 1348.6,1028.7 1347.8,1031.6 1346.9,1034.4 1346.1,1037.3 1345.2,1040.2 1344.3,1043.1 1343.4,1046 1342.6,1048.9 1341.6,1051.7 1340.7,1054.6 1339.8,1057.5 1338.9,1060.3 1337.9,1063.2 1337,1066.1 1336,1068.9 1335,1071.8 1334,1074.6 1333,1077.4 1332,1080.3 1331,1083.1 1329.9,1085.9 1328.9,1088.7 1327.8,1091.5 1326.8,1094.4 1325.7,1097.2 1324.6,1100 1323.5,1102.8 1322.3,1105.5 1321.2,1108.3 1320.1,1111.1 1318.9,1113.9 1317.7,1116.6 1316.5,1119.4 1315.3,1122.2 1314.1,1124.9 1312.9,1127.7 1311.7,1130.4 1310.4,1133.1 1309.1,1135.9 1307.9,1138.6 1306.6,1141.3 1305.2,1144 1303.9,1146.7 1302.6,1149.4 1301.2,1152.1 1299.9,1154.8 1298.5,1157.4 1297.1,1160.1 1295.7,1162.8 1294.2,1165.4 1292.8,1168.1 1291.3,1170.7 1289.8,1173.3 1288.3,1176 1286.8,1178.6 1285.3,1181.2 1283.8,1183.8 1282.2,1186.4 1280.6,1189 1279,1191.6 1277.4,1194.1 1275.8,1196.7 1274.2,1199.2 M1266.1,1197.2 L1254.4,1194.4"/>
<path stroke="#1A6FDF" d="M962.4,1198.3 964.9,1196.7 975.9,1189.6 988.9,1176.6 1005.9,1155.2 1022.5,1131.8 1036.5,1111.4 1049,1093.3 1061.4,1077.3 1073.5,1062.1 1083,1049 1093.3,1032.9 1105.7,1015 1120.5,992.8 1135.7,968.7 1150.3,944.8 1163.8,922.6 1177.9,898.3 1197,865.9 1218.1,829.4 1234.2,800.1 1247.2,774.5 1268.3,782.6 1268,785.6 1267.6,788.6 1267.3,791.6 1267,794.5 1266.6,797.5 1266.2,800.5 1265.9,803.5 1265.5,806.5 1265.1,809.4 1264.7,812.4 1264.3,815.4 1263.9,818.4 1263.5,821.4 1263,824.3 1262.6,827.3 1262.2,830.3 1261.7,833.3 1261.3,836.2 1260.8,839.2 1260.3,842.2 1259.9,845.1 1259.4,848.1 1258.9,851.1 1258.4,854 1257.9,857 1257.4,860 1256.9,862.9 1256.3,865.9 1255.8,868.9 1255.3,871.8 1254.7,874.8 1254.2,877.8 1253.6,880.7 1253,883.7 1252.5,886.6 1251.9,889.6 1251.3,892.5 1250.7,895.5 1250.1,898.5 1249.5,901.4 1248.9,904.4 1248.3,907.3 1247.7,910.3 1247,913.2 1246.4,916.2 1245.8,919.1 1245.1,922.1 1244.5,925 1243.8,927.9 1243.1,930.9 1242.5,933.8 1241.8,936.8 1241.1,939.7 1240.4,942.6 1239.7,945.6 1239,948.5 1238.3,951.5 1237.6,954.4 1236.9,957.3 1236.2,960.3 1235.5,963.2 1234.7,966.1 1234,969 1233.3,972 1232.5,974.9 1231.8,977.8 1231,980.7 1230.2,983.7 1229.5,986.6 1228.7,989.5 1227.9,992.4 1227.1,995.3 1226.4,998.2 1225.6,1001.2 1224.8,1004.1 1224,1007 1223.2,1009.9 1222.4,1012.8 1221.5,1015.7 1220.7,1018.6 1219.9,1021.5 1219.1,1024.4 1218.2,1027.3 1217.4,1030.2 1216.5,1033.1 1215.7,1036 1214.8,1038.9 1214,1041.8 1213.1,1044.7 1212.3,1047.6 1211.4,1050.5 1210.5,1053.4 1209.6,1056.2 1208.7,1059.1 1207.8,1062 1206.9,1064.9 1206,1067.7 1205.1,1070.6 1204.1,1073.5 1203.2,1076.3 1202.3,1079.2 1201.3,1082.1 1200.3,1084.9 1199.4,1087.7 1198.4,1090.6 1197.4,1093.4 1196.4,1096.3 1195.3,1099.1 1194.3,1101.9 1193.3,1104.7 1192.2,1107.5 1191.1,1110.4 1190.1,1113.2 1189,1116 1187.9,1118.7 1186.8,1121.5 1185.6,1124.3 1184.5,1127.1 1183.3,1129.9 1182.1,1132.6 1181,1135.4 1179.8,1138.1 1178.5,1140.9 1177.3,1143.6 1176.1,1146.3 1174.8,1149.1 1173.5,1151.8 1172.2,1154.5 1170.9,1157.2 1169.6,1159.9 1168.2,1162.6 1166.8,1165.2 1165.4,1167.9 1164,1170.6 1162.6,1173.2 1161.2,1175.9 1159.7,1178.5 1158.2,1181.1 1156.7,1183.7 1155.2,1186.4 1153.7,1189 1152.1,1191.5 1150.5,1194.1 1148.9,1196.7 1147.3,1199.2 M1136.9,1196.8 L1130.6,1196.2"/>
<path stroke="#37AD6B" d="M963.9,1198.4 966.4,1196.7 981.7,1186 997,1169.7 1012.3,1153.9 1027.6,1138.4 1042.9,1121.8 1058.1,1105.3 1073.4,1089.7 1088.7,1074.7 1103.5,1061 1117,1048.3 1134.2,1030.9 1146.5,1016 1158.2,1001.8 1173.7,985.8 1188.5,970.8 1200.1,958.2 1211.8,943.4 1225.6,925.5 1236.8,911.2 1247.9,897 1264.6,873.3 1280.5,853.5 1295.8,836.4 1310.6,819.3 1323,801.3 1333.3,784.6 1340.7,774.5 1362.4,782.6 1362.2,785.6 1362,788.6 1361.8,791.6 1361.5,794.6 1361.3,797.6 1361,800.6 1360.8,803.6 1360.5,806.6 1360.2,809.5 1359.9,812.5 1359.6,815.5 1359.3,818.5 1358.9,821.5 1358.6,824.5 1358.2,827.4 1357.9,830.4 1357.5,833.4 1357.1,836.4 1356.7,839.3 1356.3,842.3 1355.9,845.3 1355.5,848.3 1355.1,851.2 1354.6,854.2 1354.2,857.2 1353.7,860.1 1353.3,863.1 1352.8,866 1352.3,869 1351.8,872 1351.3,874.9 1350.8,877.9 1350.3,880.8 1349.8,883.8 1349.2,886.7 1348.7,889.7 1348.2,892.7 1347.6,895.6 1347,898.6 1346.5,901.5 1345.9,904.5 1345.3,907.4 1344.7,910.3 1344.1,913.3 1343.5,916.2 1342.9,919.2 1342.3,922.1 1341.7,925.1 1341.1,928 1340.4,930.9 1339.8,933.9 1339.2,936.8 1338.5,939.8 1337.9,942.7 1337.2,945.6 1336.6,948.6 1335.9,951.5 1335.2,954.4 1334.5,957.4 1333.9,960.3 1333.2,963.2 1332.5,966.2 1331.8,969.1 1331.1,972 1330.4,975 1329.7,977.9 1329,980.8 1328.3,983.8 1327.6,986.7 1326.8,989.6 1326.1,992.5 1325.4,995.5 1324.7,998.4 1323.9,1001.3 1323.2,1004.2 1322.5,1007.2 1321.7,1010.1 1321,1013 1320.3,1015.9 1319.5,1018.9 1318.8,1021.8 1318,1024.7 1317.3,1027.6 1316.5,1030.6 1315.8,1033.5 1315,1036.4 1314.3,1039.3 1313.5,1042.2 1312.7,1045.1 1312,1048.1 1311.2,1051 1310.4,1053.9 1309.6,1056.8 1308.8,1059.7 1308,1062.6 1307.2,1065.5 1306.4,1068.4 1305.5,1071.3 1304.7,1074.2 1303.9,1077 1303,1079.9 1302.1,1082.8 1301.2,1085.7 1300.4,1088.5 1299.4,1091.4 1298.5,1094.2 1297.6,1097.1 1296.7,1099.9 1295.7,1102.8 1294.7,1105.6 1293.7,1108.4 1292.7,1111.2 1291.7,1114.1 1290.7,1116.9 1289.6,1119.7 1288.6,1122.4 1287.5,1125.2 1286.4,1128 1285.2,1130.8 1284.1,1133.5 1282.9,1136.3 1281.8,1139 1280.6,1141.8 1279.3,1144.5 1278.1,1147.2 1276.8,1149.9 1275.5,1152.6 1274.2,1155.3 1272.9,1157.9 1271.5,1160.6 1270.2,1163.3 1268.7,1165.9 1267.3,1168.5 1265.9,1171.2 1264.4,1173.8 1262.9,1176.4 1261.3,1179 1259.8,1181.5 1258.2,1184.1 1256.6,1186.6 1254.9,1189.2 1253.2,1191.7 1251.5,1194.2 1249.8,1196.7 1248.1,1199.2 M1234,1197.1 L1226.9,1196.3"/>
<path stroke="#00CBCC" d="M962.3,1198.2 964.9,1196.7 977.1,1189.5 990.1,1176.3 1007,1153.4 1026.6,1128.2 1042.9,1109.3 1058.1,1091 1072.9,1072.6 1085.2,1059.4 1094.6,1049.1 1105.9,1035.2 1120.5,1017.9 1135.7,1000.8 1150.7,983.6 1165.8,964.9 1180.5,946.7 1192.6,932.4 1203,920.2 1212.5,906.4 1226.9,882.7 1241.8,858.3 1254.2,836.4 1265.5,814.7 1277.3,793.2 1288.9,775.6 1313.8,784.2 1313.5,787.2 1313.2,790.2 1312.8,793.2 1312.5,796.1 1312.2,799.1 1311.8,802.1 1311.5,805.1 1311.1,808.1 1310.7,811.1 1310.4,814.1 1310,817 1309.6,820 1309.2,823 1308.8,826 1308.4,829 1308,831.9 1307.6,834.9 1307.2,837.9 1306.7,840.9 1306.3,843.9 1305.9,846.8 1305.4,849.8 1305,852.8 1304.5,855.8 1304.1,858.7 1303.6,861.7 1303.1,864.7 1302.6,867.7 1302.2,870.6 1301.7,873.6 1301.2,876.6 1300.7,879.5 1300.2,882.5 1299.6,885.5 1299.1,888.4 1298.6,891.4 1298.1,894.4 1297.5,897.3 1297,900.3 1296.4,903.3 1295.9,906.2 1295.3,909.2 1294.8,912.2 1294.2,915.1 1293.6,918.1 1293,921 1292.5,924 1291.9,927 1291.3,929.9 1290.7,932.9 1290.1,935.8 1289.5,938.8 1288.8,941.7 1288.2,944.7 1287.6,947.6 1287,950.6 1286.3,953.5 1285.7,956.5 1285,959.4 1284.4,962.4 1283.7,965.3 1283.1,968.3 1282.4,971.2 1281.7,974.2 1281.1,977.1 1280.4,980 1279.7,983 1279,985.9 1278.3,988.8 1277.6,991.8 1276.9,994.7 1276.2,997.7 1275.5,1000.6 1274.8,1003.5 1274.1,1006.5 1273.4,1009.4 1272.6,1012.3 1271.9,1015.2 1271.2,1018.2 1270.4,1021.1 1269.7,1024 1268.9,1026.9 1268.2,1029.9 1267.4,1032.8 1266.7,1035.7 1265.9,1038.6 1265.1,1041.5 1264.3,1044.4 1263.6,1047.4 1262.8,1050.3 1262,1053.2 1261.2,1056.1 1260.4,1059 1259.6,1061.9 1258.7,1064.8 1257.9,1067.7 1257.1,1070.6 1256.2,1073.5 1255.4,1076.4 1254.5,1079.2 1253.7,1082.1 1252.8,1085 1251.9,1087.9 1251,1090.8 1250.1,1093.6 1249.2,1096.5 1248.3,1099.4 1247.3,1102.2 1246.4,1105.1 1245.5,1107.9 1244.5,1110.8 1243.5,1113.6 1242.5,1116.5 1241.6,1119.3 1240.5,1122.1 1239.5,1125 1238.5,1127.8 1237.5,1130.6 1236.4,1133.4 1235.4,1136.2 1234.3,1139 1233.2,1141.8 1232.1,1144.6 1231,1147.4 1229.9,1150.2 1228.7,1153 1227.6,1155.8 1226.4,1158.5 1225.2,1161.3 1224,1164.1 1222.8,1166.8 1221.6,1169.6 1220.4,1172.3 1219.1,1175 1217.8,1177.8 1216.6,1180.5 1215.3,1183.2 1213.9,1185.9 1212.6,1188.6 1211.3,1191.3 1209.9,1194 1208.5,1196.7 1207.1,1199.4 M1194.2,1196.8 L1187.9,1196.2"/>
<path stroke="#7D4E4E" d="M935.5,1199.2 937.1,1196.7 954.9,1168.7 975.6,1138.9 995.7,1112.2 1011,1095.9 1025.2,1081.8 1037,1066.2 1048.7,1048.1 1060.2,1028.2 1074.6,1002 1089.9,973.7 1105.2,947.9 1120.4,924.3 1135.4,900.7 1149.5,879.1 1166.9,852.6 1187.5,819.2 1203.7,794.3 1217.1,774.8 1245.6,784.9 1245.3,787.9 1245.1,790.9 1244.8,793.9 1244.5,796.9 1244.2,799.9 1243.9,802.9 1243.5,805.9 1243.2,808.8 1242.8,811.8 1242.5,814.8 1242.1,817.8 1241.7,820.8 1241.3,823.7 1240.9,826.7 1240.5,829.7 1240,832.7 1239.6,835.6 1239.1,838.6 1238.6,841.6 1238.2,844.5 1237.7,847.5 1237.2,850.5 1236.7,853.4 1236.1,856.4 1235.6,859.3 1235.1,862.3 1234.5,865.2 1234,868.2 1233.4,871.1 1232.8,874.1 1232.2,877 1231.6,880 1231,882.9 1230.4,885.9 1229.8,888.8 1229.2,891.8 1228.5,894.7 1227.9,897.6 1227.2,900.6 1226.6,903.5 1225.9,906.5 1225.3,909.4 1224.6,912.3 1223.9,915.3 1223.2,918.2 1222.5,921.1 1221.8,924.1 1221.1,927 1220.4,929.9 1219.6,932.8 1218.9,935.8 1218.2,938.7 1217.4,941.6 1216.7,944.5 1215.9,947.4 1215.2,950.4 1214.4,953.3 1213.7,956.2 1212.9,959.1 1212.1,962 1211.3,965 1210.6,967.9 1209.8,970.8 1209,973.7 1208.2,976.6 1207.4,979.5 1206.6,982.4 1205.8,985.4 1205,988.3 1204.2,991.2 1203.4,994.1 1202.6,997 1201.8,999.9 1200.9,1002.8 1200.1,1005.7 1199.3,1008.6 1198.5,1011.5 1197.6,1014.4 1196.8,1017.3 1196,1020.2 1195.2,1023.1 1194.3,1026 1193.5,1028.9 1192.7,1031.9 1191.8,1034.8 1191,1037.7 1190.2,1040.6 1189.3,1043.5 1188.5,1046.4 1187.6,1049.2 1186.8,1052.1 1185.9,1055 1185.1,1057.9 1184.2,1060.8 1183.3,1063.7 1182.5,1066.6 1181.6,1069.5 1180.7,1072.4 1179.8,1075.2 1178.9,1078.1 1178,1081 1177.1,1083.8 1176.2,1086.7 1175.2,1089.6 1174.3,1092.4 1173.4,1095.3 1172.4,1098.1 1171.4,1101 1170.4,1103.8 1169.5,1106.6 1168.5,1109.5 1167.4,1112.3 1166.4,1115.1 1165.4,1117.9 1164.3,1120.8 1163.3,1123.6 1162.2,1126.4 1161.1,1129.2 1160,1131.9 1158.9,1134.7 1157.7,1137.5 1156.6,1140.3 1155.4,1143 1154.3,1145.8 1153.1,1148.5 1151.8,1151.3 1150.6,1154 1149.4,1156.7 1148.1,1159.5 1146.8,1162.2 1145.5,1164.9 1144.2,1167.6 1142.9,1170.3 1141.5,1173 1140.1,1175.6 1138.7,1178.3 1137.3,1181 1135.8,1183.6 1134.4,1186.2 1132.9,1188.9 1131.4,1191.5 1129.9,1194.1 1128.3,1196.7 1126.8,1199.3 M1114.8,1197.1 L1106.9,1196"/>
<path stroke="#8E8E00" d="M963.7,1197.9 966.4,1196.7 981.7,1189.9 999.1,1183 1026.1,1176.1 1058.1,1168 1078.7,1155.5 1092.8,1142.3 1104.4,1131.6 1116.2,1120.9 1131,1105.8 1147.9,1088.5 1161.7,1077.6 1176.9,1068.9 1197.6,1056.6 1218.3,1042.4 1237.4,1028.7 1256.2,1015.7 1271.5,1001.2 1283.3,986.1 1295.2,966.8 1307.7,944.1 1320,922.3 1329.5,906.9 1343.7,882.7 1360.1,852.5 1375.8,824.2 1390.8,797.7 1404.4,775.3 1431.2,785.2 1431,788.2 1430.7,791.2 1430.5,794.2 1430.2,797.2 1430,800.3 1429.7,803.3 1429.4,806.3 1429.1,809.3 1428.7,812.2 1428.4,815.2 1428,818.2 1427.7,821.2 1427.3,824.2 1426.9,827.2 1426.5,830.2 1426.1,833.2 1425.7,836.1 1425.2,839.1 1424.8,842.1 1424.3,845.1 1423.9,848 1423.4,851 1422.9,854 1422.4,856.9 1421.9,859.9 1421.4,862.9 1420.8,865.8 1420.3,868.8 1419.8,871.8 1419.2,874.7 1418.6,877.7 1418.1,880.6 1417.5,883.6 1416.9,886.5 1416.3,889.5 1415.7,892.4 1415.1,895.4 1414.5,898.3 1413.9,901.3 1413.2,904.2 1412.6,907.2 1412,910.1 1411.3,913 1410.7,916 1410,918.9 1409.3,921.9 1408.7,924.8 1408,927.7 1407.3,930.7 1406.6,933.6 1405.9,936.6 1405.2,939.5 1404.5,942.4 1403.8,945.4 1403.1,948.3 1402.4,951.2 1401.7,954.2 1401,957.1 1400.3,960 1399.5,963 1398.8,965.9 1398.1,968.8 1397.3,971.8 1396.6,974.7 1395.9,977.6 1395.1,980.5 1394.4,983.5 1393.7,986.4 1392.9,989.3 1392.2,992.3 1391.4,995.2 1390.7,998.1 1390,1001.1 1389.2,1004 1388.5,1006.9 1387.7,1009.9 1387,1012.8 1386.2,1015.7 1385.5,1018.6 1384.8,1021.6 1384,1024.5 1383.3,1027.5 1382.6,1030.4 1381.8,1033.3 1381.1,1036.3 1380.3,1039.2 1379.6,1042.1 1378.9,1045 1378.1,1048 1377.4,1050.9 1376.6,1053.8 1375.9,1056.8 1375.1,1059.7 1374.3,1062.6 1373.6,1065.5 1372.8,1068.5 1372,1071.4 1371.2,1074.3 1370.4,1077.2 1369.6,1080.1 1368.8,1083 1368,1085.9 1367.2,1088.8 1366.3,1091.7 1365.5,1094.6 1364.6,1097.5 1363.7,1100.3 1362.9,1103.2 1362,1106.1 1361.1,1108.9 1360.1,1111.8 1359.2,1114.7 1358.2,1117.5 1357.3,1120.3 1356.3,1123.2 1355.3,1126 1354.3,1128.8 1353.3,1131.6 1352.2,1134.5 1351.1,1137.3 1350.1,1140.1 1349,1142.8 1347.8,1145.6 1346.7,1148.4 1345.5,1151.2 1344.4,1153.9 1343.1,1156.7 1341.9,1159.4 1340.7,1162.1 1339.4,1164.8 1338.1,1167.6 1336.8,1170.3 1335.5,1172.9 1334.1,1175.6 1332.7,1178.3 1331.3,1181 1329.8,1183.6 1328.4,1186.3 1326.9,1188.9 1325.3,1191.5 1323.8,1194.1 1322.2,1196.7 1320.6,1199.3 M1311,1197.1 L1301.8,1196"/>
</g>
<text x="893.28" y="1233.45" font-size="30.5" textLength="17.25" lengthAdjust="spacingAndGlyphs">0</text>
<text x="983.18" y="1233.45" font-size="30.5" textLength="51.74" lengthAdjust="spacingAndGlyphs">100</text>
<text x="1090.33" y="1233.45" font-size="30.5" textLength="51.74" lengthAdjust="spacingAndGlyphs">200</text>
<text x="1197.48" y="1233.45" font-size="30.5" textLength="51.74" lengthAdjust="spacingAndGlyphs">300</text>
<text x="1304.63" y="1233.45" font-size="30.5" textLength="51.74" lengthAdjust="spacingAndGlyphs">400</text>
<text x="1411.78" y="1233.45" font-size="30.5" textLength="51.74" lengthAdjust="spacingAndGlyphs">500</text>
<text x="1518.93" y="1233.45" font-size="30.5" textLength="51.74" lengthAdjust="spacingAndGlyphs">600</text>
<text x="830.26" y="1157.45" font-size="30.5" textLength="60.49" lengthAdjust="spacingAndGlyphs">0.02</text>
<text x="829.64" y="1061.84" font-size="30.5" textLength="60.49" lengthAdjust="spacingAndGlyphs">0.04</text>
<text x="830.26" y="966.23" font-size="30.5" textLength="60.49" lengthAdjust="spacingAndGlyphs">0.06</text>
<text x="830.26" y="870.62" font-size="30.5" textLength="60.49" lengthAdjust="spacingAndGlyphs">0.08</text>
<text x="829.95" y="775.01" font-size="30.5" textLength="60.49" lengthAdjust="spacingAndGlyphs">0.10</text>
<text x="830.26" y="679.40" font-size="30.5" textLength="60.49" lengthAdjust="spacingAndGlyphs">0.12</text>
<text x="1088.28" y="1278.95" font-size="31.3" textLength="269.98" lengthAdjust="spacingAndGlyphs" font-weight="bold">Displacements, nm</text>
<text transform="translate(813.10 1065.45) rotate(-90)" x="0" y="0" font-size="31.3" textLength="290.44" lengthAdjust="spacingAndGlyphs" font-weight="bold">Load on sample, mN</text>
<text x="1436.58" y="716.90" font-size="31" textLength="90.24" lengthAdjust="spacingAndGlyphs">Case 4</text>
<text x="759.49" y="1361.00" font-size="43" textLength="51.11" lengthAdjust="spacingAndGlyphs">(a)</text>
<text x="788.13" y="2235.50" font-size="43" textLength="52.33" lengthAdjust="spacingAndGlyphs">(b)</text>
<path d="M577.96,2128.60v-13.70 M748.32,2128.60v-13.70 M918.68,2128.60v-13.70 M1089.04,2128.60v-13.70 M407.60,2094.09h6.60 M407.60,2059.59h13.70 M407.60,2025.09h6.60 M407.60,1990.58h13.70 M407.60,1956.07h6.60 M407.60,1921.57h13.70 M407.60,1887.07h6.60 M407.60,1852.56h13.70 M407.60,1818.05h6.60 M407.60,1783.55h13.70 M407.60,1749.05h6.60 M407.60,1714.54h13.70 M407.60,1680.03h6.60 M407.60,1645.53h13.70 M407.60,1611.03h6.60 M407.60,1576.52h13.70 M407.60,1542.01h6.60 M407.60,1507.51h13.70 M407.60,1473.01h6.60" stroke="#000" stroke-width="2.8" fill="none"/>
<rect x="407.60" y="1438.50" width="851.80" height="690.10" fill="none" stroke="#000" stroke-width="2.8"/>
<text x="349.85" y="2137.80" font-size="31" textLength="43.30" lengthAdjust="spacingAndGlyphs">0.0</text>
<text x="349.85" y="2068.79" font-size="31" textLength="43.30" lengthAdjust="spacingAndGlyphs">0.5</text>
<text x="349.85" y="1999.78" font-size="31" textLength="43.30" lengthAdjust="spacingAndGlyphs">1.0</text>
<text x="349.85" y="1930.77" font-size="31" textLength="43.30" lengthAdjust="spacingAndGlyphs">1.5</text>
<text x="349.85" y="1861.76" font-size="31" textLength="43.30" lengthAdjust="spacingAndGlyphs">2.0</text>
<text x="349.85" y="1792.75" font-size="31" textLength="43.30" lengthAdjust="spacingAndGlyphs">2.5</text>
<text x="349.85" y="1723.74" font-size="31" textLength="43.30" lengthAdjust="spacingAndGlyphs">3.0</text>
<text x="349.85" y="1654.73" font-size="31" textLength="43.30" lengthAdjust="spacingAndGlyphs">3.5</text>
<text x="349.85" y="1585.72" font-size="31" textLength="43.30" lengthAdjust="spacingAndGlyphs">4.0</text>
<text x="349.85" y="1516.71" font-size="31" textLength="43.30" lengthAdjust="spacingAndGlyphs">4.5</text>
<text x="349.85" y="1447.70" font-size="31" textLength="43.30" lengthAdjust="spacingAndGlyphs">5.0</text>
<text x="533.04" y="2165.60" font-size="31" textLength="89.79" lengthAdjust="spacingAndGlyphs">Case 1</text>
<text x="703.40" y="2165.60" font-size="31" textLength="89.79" lengthAdjust="spacingAndGlyphs">Case 2</text>
<text x="873.76" y="2165.60" font-size="31" textLength="89.79" lengthAdjust="spacingAndGlyphs">Case 3</text>
<text x="1044.13" y="2165.60" font-size="31" textLength="89.21" lengthAdjust="spacingAndGlyphs">Case 4</text>
<text transform="translate(323.00 1947.59) rotate(-90)" x="0" y="0" font-size="32.5" textLength="328.55" lengthAdjust="spacingAndGlyphs" font-weight="bold">Young's modulus (Gpa)</text>
<g fill="#515151"><rect x="570.21" y="1746.05" width="15.5" height="15.5"/><rect x="570.21" y="1940.75" width="15.5" height="15.5"/><rect x="570.21" y="1968.75" width="15.5" height="15.5"/><rect x="570.21" y="1988.25" width="15.5" height="15.5"/><rect x="570.21" y="1995.45" width="15.5" height="15.5"/><rect x="570.21" y="2003.85" width="15.5" height="15.5"/><rect x="570.21" y="2023.75" width="15.5" height="15.5"/><rect x="570.21" y="2030.05" width="15.5" height="15.5"/></g>
<g fill="#F14040"><circle cx="748.32" cy="1949.00" r="8.65"/><circle cx="748.32" cy="1957.70" r="8.65"/><circle cx="748.32" cy="1995.40" r="8.65"/><circle cx="748.32" cy="2003.50" r="8.65"/><circle cx="748.32" cy="2012.50" r="8.65"/><circle cx="748.32" cy="2023.50" r="8.65"/></g>
<g fill="#1A6FDF"><path d="M918.68,1678.20L929.13,1695.60H908.23Z"/><path d="M918.68,1820.50L929.13,1837.90H908.23Z"/><path d="M918.68,1962.20L929.13,1979.60H908.23Z"/><path d="M918.68,1988.40L929.13,2005.50H908.23Z"/><path d="M918.68,2062.50L929.13,2079.80H908.23Z"/></g>
<g fill="#37AD6B"><path d="M1078.74,2006.30H1099.34L1089.04,2023.70Z"/><path d="M1078.74,2012.50H1099.34L1089.04,2029.90Z"/><path d="M1078.74,2018.30H1099.34L1089.04,2035.70Z"/><path d="M1078.74,2026.40H1099.34L1089.04,2043.80Z"/><path d="M1078.74,2035.20H1099.34L1089.04,2052.60Z"/><path d="M1078.74,2046.40H1099.34L1089.04,2063.80Z"/></g>
</svg>
</body></html>
